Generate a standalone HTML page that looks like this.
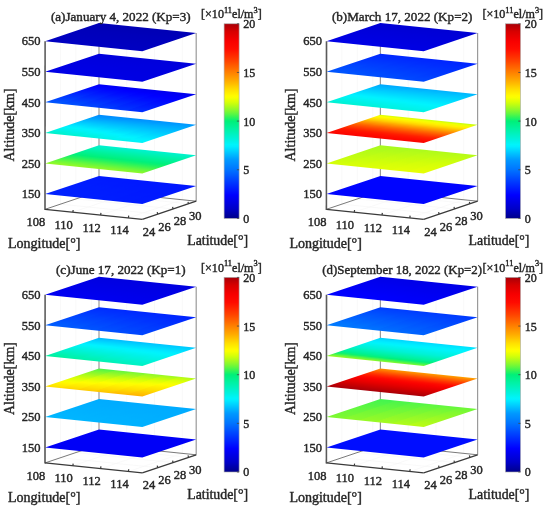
<!DOCTYPE html>
<html><head><meta charset="utf-8"><style>
html,body{margin:0;padding:0;background:#fff;}
svg{display:block;filter:blur(0.3px);font-family:"Liberation Serif","Times New Roman",serif;}
.t{fill:#262626;stroke:#262626;stroke-width:0.42px;font-size:12.5px;}
</style></head><body>
<svg width="550" height="514" viewBox="0 0 550 514">
<rect width="550" height="514" fill="#fff"/>
<defs><linearGradient id="jetv" x1="0" y1="0" x2="0" y2="1"><stop offset="0" stop-color="#a80008"/><stop offset="0.01" stop-color="#b40006"/><stop offset="0.02" stop-color="#c00004"/><stop offset="0.03" stop-color="#cc0002"/><stop offset="0.04" stop-color="#d80000"/><stop offset="0.05" stop-color="#de0000"/><stop offset="0.06" stop-color="#e50000"/><stop offset="0.07" stop-color="#eb0000"/><stop offset="0.08" stop-color="#f20000"/><stop offset="0.09" stop-color="#f80000"/><stop offset="0.1" stop-color="#fa0300"/><stop offset="0.11" stop-color="#fb0600"/><stop offset="0.12" stop-color="#fd0900"/><stop offset="0.13" stop-color="#ff0c00"/><stop offset="0.14" stop-color="#ff1500"/><stop offset="0.15" stop-color="#ff1e00"/><stop offset="0.16" stop-color="#ff2700"/><stop offset="0.17" stop-color="#ff3000"/><stop offset="0.18" stop-color="#ff3900"/><stop offset="0.19" stop-color="#ff4200"/><stop offset="0.2" stop-color="#ff4c00"/><stop offset="0.21" stop-color="#ff5700"/><stop offset="0.22" stop-color="#ff6100"/><stop offset="0.23" stop-color="#ff6b00"/><stop offset="0.24" stop-color="#ff7600"/><stop offset="0.25" stop-color="#ff8000"/><stop offset="0.26" stop-color="#ff8a00"/><stop offset="0.27" stop-color="#ff9400"/><stop offset="0.28" stop-color="#ff9e00"/><stop offset="0.29" stop-color="#ffa800"/><stop offset="0.3" stop-color="#ffb300"/><stop offset="0.31" stop-color="#ffbe00"/><stop offset="0.32" stop-color="#ffca00"/><stop offset="0.33" stop-color="#ffd500"/><stop offset="0.34" stop-color="#ffe000"/><stop offset="0.35" stop-color="#ffe900"/><stop offset="0.36" stop-color="#fff200"/><stop offset="0.37" stop-color="#fffb00"/><stop offset="0.38" stop-color="#f8ff01"/><stop offset="0.39" stop-color="#e9ff04"/><stop offset="0.4" stop-color="#dbff07"/><stop offset="0.41" stop-color="#cafe0d"/><stop offset="0.42" stop-color="#b7fc16"/><stop offset="0.43" stop-color="#a4fa20"/><stop offset="0.44" stop-color="#8ff92a"/><stop offset="0.45" stop-color="#7af833"/><stop offset="0.46" stop-color="#63f73e"/><stop offset="0.47" stop-color="#4af64b"/><stop offset="0.48" stop-color="#30f458"/><stop offset="0.49" stop-color="#18f268"/><stop offset="0.5" stop-color="#00f078"/><stop offset="0.51" stop-color="#00f083"/><stop offset="0.52" stop-color="#00f18d"/><stop offset="0.53" stop-color="#00f198"/><stop offset="0.54" stop-color="#00f2a3"/><stop offset="0.55" stop-color="#00f2ad"/><stop offset="0.56" stop-color="#00f2b8"/><stop offset="0.57" stop-color="#00f2c3"/><stop offset="0.58" stop-color="#00f2ce"/><stop offset="0.59" stop-color="#00f2d9"/><stop offset="0.6" stop-color="#00f2e4"/><stop offset="0.61" stop-color="#00f3ef"/><stop offset="0.62" stop-color="#00f4fa"/><stop offset="0.63" stop-color="#00eeff"/><stop offset="0.64" stop-color="#00e2ff"/><stop offset="0.65" stop-color="#00d6ff"/><stop offset="0.66" stop-color="#00caff"/><stop offset="0.67" stop-color="#00bdff"/><stop offset="0.68" stop-color="#00b1ff"/><stop offset="0.69" stop-color="#00a4ff"/><stop offset="0.7" stop-color="#0098ff"/><stop offset="0.71" stop-color="#0091ff"/><stop offset="0.72" stop-color="#008aff"/><stop offset="0.73" stop-color="#0082ff"/><stop offset="0.74" stop-color="#007bff"/><stop offset="0.75" stop-color="#0074ff"/><stop offset="0.76" stop-color="#006bff"/><stop offset="0.77" stop-color="#0062ff"/><stop offset="0.78" stop-color="#0059ff"/><stop offset="0.79" stop-color="#004fff"/><stop offset="0.8" stop-color="#0046ff"/><stop offset="0.81" stop-color="#003dff"/><stop offset="0.82" stop-color="#0034ff"/><stop offset="0.83" stop-color="#002bff"/><stop offset="0.84" stop-color="#0023ff"/><stop offset="0.85" stop-color="#001aff"/><stop offset="0.86" stop-color="#0011ff"/><stop offset="0.87" stop-color="#0009ff"/><stop offset="0.88" stop-color="#0000ff"/><stop offset="0.89" stop-color="#0000f7"/><stop offset="0.9" stop-color="#0000ef"/><stop offset="0.91" stop-color="#0000e7"/><stop offset="0.92" stop-color="#0000e0"/><stop offset="0.93" stop-color="#0000d8"/><stop offset="0.94" stop-color="#0000d0"/><stop offset="0.95" stop-color="#0000c8"/><stop offset="0.96" stop-color="#0000bc"/><stop offset="0.97" stop-color="#0000af"/><stop offset="0.98" stop-color="#0000a3"/><stop offset="0.99" stop-color="#000096"/><stop offset="1" stop-color="#00008a"/></linearGradient>
<linearGradient id="g2" gradientUnits="userSpaceOnUse" x1="0" y1="0" x2="0" y2="1"><stop offset="0" stop-color="#0022ff"/><stop offset="0.083" stop-color="#0021ff"/><stop offset="0.167" stop-color="#0021ff"/><stop offset="0.25" stop-color="#0020ff"/><stop offset="0.333" stop-color="#001fff"/><stop offset="0.417" stop-color="#001eff"/><stop offset="0.5" stop-color="#001eff"/><stop offset="0.583" stop-color="#001dff"/><stop offset="0.667" stop-color="#001cff"/><stop offset="0.75" stop-color="#001cff"/><stop offset="0.833" stop-color="#001bff"/><stop offset="0.917" stop-color="#001aff"/><stop offset="1" stop-color="#001aff"/></linearGradient>
<linearGradient id="g3" gradientUnits="userSpaceOnUse" x1="0" y1="0" x2="0" y2="1"><stop offset="0" stop-color="#0021ff"/><stop offset="0.083" stop-color="#0020ff"/><stop offset="0.167" stop-color="#001fff"/><stop offset="0.25" stop-color="#001fff"/><stop offset="0.333" stop-color="#001eff"/><stop offset="0.417" stop-color="#001dff"/><stop offset="0.5" stop-color="#001dff"/><stop offset="0.583" stop-color="#001cff"/><stop offset="0.667" stop-color="#001bff"/><stop offset="0.75" stop-color="#001bff"/><stop offset="0.833" stop-color="#001aff"/><stop offset="0.917" stop-color="#001aff"/><stop offset="1" stop-color="#0019ff"/></linearGradient>
<linearGradient id="g4" gradientUnits="userSpaceOnUse" x1="0" y1="0" x2="0" y2="1"><stop offset="0" stop-color="#001fff"/><stop offset="0.083" stop-color="#001eff"/><stop offset="0.167" stop-color="#001eff"/><stop offset="0.25" stop-color="#001dff"/><stop offset="0.333" stop-color="#001dff"/><stop offset="0.417" stop-color="#001cff"/><stop offset="0.5" stop-color="#001cff"/><stop offset="0.583" stop-color="#001bff"/><stop offset="0.667" stop-color="#001aff"/><stop offset="0.75" stop-color="#001aff"/><stop offset="0.833" stop-color="#0019ff"/><stop offset="0.917" stop-color="#0019ff"/><stop offset="1" stop-color="#0018ff"/></linearGradient>
<linearGradient id="g5" gradientUnits="userSpaceOnUse" x1="0" y1="0" x2="0" y2="1"><stop offset="0" stop-color="#001eff"/><stop offset="0.083" stop-color="#001dff"/><stop offset="0.167" stop-color="#001dff"/><stop offset="0.25" stop-color="#001cff"/><stop offset="0.333" stop-color="#001cff"/><stop offset="0.417" stop-color="#001bff"/><stop offset="0.5" stop-color="#001bff"/><stop offset="0.583" stop-color="#001aff"/><stop offset="0.667" stop-color="#001aff"/><stop offset="0.75" stop-color="#0019ff"/><stop offset="0.833" stop-color="#0018ff"/><stop offset="0.917" stop-color="#0018ff"/><stop offset="1" stop-color="#0017ff"/></linearGradient>
<linearGradient id="g6" gradientUnits="userSpaceOnUse" x1="0" y1="0" x2="0" y2="1"><stop offset="0" stop-color="#001cff"/><stop offset="0.083" stop-color="#001cff"/><stop offset="0.167" stop-color="#001bff"/><stop offset="0.25" stop-color="#001bff"/><stop offset="0.333" stop-color="#001aff"/><stop offset="0.417" stop-color="#001aff"/><stop offset="0.5" stop-color="#0019ff"/><stop offset="0.583" stop-color="#0019ff"/><stop offset="0.667" stop-color="#0019ff"/><stop offset="0.75" stop-color="#0018ff"/><stop offset="0.833" stop-color="#0018ff"/><stop offset="0.917" stop-color="#0017ff"/><stop offset="1" stop-color="#0017ff"/></linearGradient>
<linearGradient id="g7" gradientUnits="userSpaceOnUse" x1="0" y1="0" x2="0" y2="1"><stop offset="0" stop-color="#001bff"/><stop offset="0.083" stop-color="#001aff"/><stop offset="0.167" stop-color="#001aff"/><stop offset="0.25" stop-color="#001aff"/><stop offset="0.333" stop-color="#0019ff"/><stop offset="0.417" stop-color="#0019ff"/><stop offset="0.5" stop-color="#0018ff"/><stop offset="0.583" stop-color="#0018ff"/><stop offset="0.667" stop-color="#0018ff"/><stop offset="0.75" stop-color="#0017ff"/><stop offset="0.833" stop-color="#0017ff"/><stop offset="0.917" stop-color="#0016ff"/><stop offset="1" stop-color="#0016ff"/></linearGradient>
<pattern id="p1" patternUnits="userSpaceOnUse" x="-1" y="-1" width="3" height="3"><g transform="translate(1 1)"><rect x="-1" y="-1" width="1.197" height="3" fill="url(#g2)"/><rect x="0.167" y="-1" width="0.197" height="3" fill="url(#g3)"/><rect x="0.333" y="-1" width="0.197" height="3" fill="url(#g4)"/><rect x="0.5" y="-1" width="0.197" height="3" fill="url(#g5)"/><rect x="0.667" y="-1" width="0.197" height="3" fill="url(#g6)"/><rect x="0.833" y="-1" width="1.167" height="3" fill="url(#g7)"/></g></pattern>
<linearGradient id="g9" gradientUnits="userSpaceOnUse" x1="0" y1="0" x2="0" y2="1"><stop offset="0" stop-color="#99fa25"/><stop offset="0.083" stop-color="#82f930"/><stop offset="0.167" stop-color="#6bf83b"/><stop offset="0.25" stop-color="#4ff649"/><stop offset="0.333" stop-color="#33f456"/><stop offset="0.417" stop-color="#19f267"/><stop offset="0.5" stop-color="#00f078"/><stop offset="0.583" stop-color="#00f187"/><stop offset="0.667" stop-color="#00f196"/><stop offset="0.75" stop-color="#00f2a5"/><stop offset="0.833" stop-color="#00f2b5"/><stop offset="0.917" stop-color="#00f2c4"/><stop offset="1" stop-color="#00f2d3"/></linearGradient>
<linearGradient id="g10" gradientUnits="userSpaceOnUse" x1="0" y1="0" x2="0" y2="1"><stop offset="0" stop-color="#97fa26"/><stop offset="0.083" stop-color="#80f930"/><stop offset="0.167" stop-color="#69f83c"/><stop offset="0.25" stop-color="#4df64a"/><stop offset="0.333" stop-color="#31f457"/><stop offset="0.417" stop-color="#17f269"/><stop offset="0.5" stop-color="#00f079"/><stop offset="0.583" stop-color="#00f188"/><stop offset="0.667" stop-color="#00f197"/><stop offset="0.75" stop-color="#00f2a5"/><stop offset="0.833" stop-color="#00f2b4"/><stop offset="0.917" stop-color="#00f2c3"/><stop offset="1" stop-color="#00f2d2"/></linearGradient>
<linearGradient id="g11" gradientUnits="userSpaceOnUse" x1="0" y1="0" x2="0" y2="1"><stop offset="0" stop-color="#95f927"/><stop offset="0.083" stop-color="#7ff931"/><stop offset="0.167" stop-color="#66f73d"/><stop offset="0.25" stop-color="#4bf64b"/><stop offset="0.333" stop-color="#2ff459"/><stop offset="0.417" stop-color="#15f26a"/><stop offset="0.5" stop-color="#00f07a"/><stop offset="0.583" stop-color="#00f189"/><stop offset="0.667" stop-color="#00f197"/><stop offset="0.75" stop-color="#00f2a5"/><stop offset="0.833" stop-color="#00f2b4"/><stop offset="0.917" stop-color="#00f2c3"/><stop offset="1" stop-color="#00f2d1"/></linearGradient>
<linearGradient id="g12" gradientUnits="userSpaceOnUse" x1="0" y1="0" x2="0" y2="1"><stop offset="0" stop-color="#94f928"/><stop offset="0.083" stop-color="#7df832"/><stop offset="0.167" stop-color="#64f73e"/><stop offset="0.25" stop-color="#49f64c"/><stop offset="0.333" stop-color="#2df45a"/><stop offset="0.417" stop-color="#13f26b"/><stop offset="0.5" stop-color="#00f07b"/><stop offset="0.583" stop-color="#00f189"/><stop offset="0.667" stop-color="#00f197"/><stop offset="0.75" stop-color="#00f2a5"/><stop offset="0.833" stop-color="#00f2b4"/><stop offset="0.917" stop-color="#00f2c2"/><stop offset="1" stop-color="#00f2d0"/></linearGradient>
<linearGradient id="g13" gradientUnits="userSpaceOnUse" x1="0" y1="0" x2="0" y2="1"><stop offset="0" stop-color="#92f928"/><stop offset="0.083" stop-color="#7bf833"/><stop offset="0.167" stop-color="#62f73f"/><stop offset="0.25" stop-color="#46f54d"/><stop offset="0.333" stop-color="#2bf45b"/><stop offset="0.417" stop-color="#11f16d"/><stop offset="0.5" stop-color="#00f07c"/><stop offset="0.583" stop-color="#00f18a"/><stop offset="0.667" stop-color="#00f198"/><stop offset="0.75" stop-color="#00f2a5"/><stop offset="0.833" stop-color="#00f2b3"/><stop offset="0.917" stop-color="#00f2c1"/><stop offset="1" stop-color="#00f2d0"/></linearGradient>
<linearGradient id="g14" gradientUnits="userSpaceOnUse" x1="0" y1="0" x2="0" y2="1"><stop offset="0" stop-color="#90f929"/><stop offset="0.083" stop-color="#7af834"/><stop offset="0.167" stop-color="#60f740"/><stop offset="0.25" stop-color="#44f54e"/><stop offset="0.333" stop-color="#29f35d"/><stop offset="0.417" stop-color="#0ff16e"/><stop offset="0.5" stop-color="#00f07d"/><stop offset="0.583" stop-color="#00f18a"/><stop offset="0.667" stop-color="#00f198"/><stop offset="0.75" stop-color="#00f2a5"/><stop offset="0.833" stop-color="#00f2b3"/><stop offset="0.917" stop-color="#00f2c1"/><stop offset="1" stop-color="#00f2cf"/></linearGradient>
<pattern id="p8" patternUnits="userSpaceOnUse" x="-1" y="-1" width="3" height="3"><g transform="translate(1 1)"><rect x="-1" y="-1" width="1.197" height="3" fill="url(#g9)"/><rect x="0.167" y="-1" width="0.197" height="3" fill="url(#g10)"/><rect x="0.333" y="-1" width="0.197" height="3" fill="url(#g11)"/><rect x="0.5" y="-1" width="0.197" height="3" fill="url(#g12)"/><rect x="0.667" y="-1" width="0.197" height="3" fill="url(#g13)"/><rect x="0.833" y="-1" width="1.167" height="3" fill="url(#g14)"/></g></pattern>
<linearGradient id="g16" gradientUnits="userSpaceOnUse" x1="0" y1="0" x2="0" y2="1"><stop offset="0" stop-color="#00f2c8"/><stop offset="0.083" stop-color="#00f2d5"/><stop offset="0.167" stop-color="#00f2e2"/><stop offset="0.25" stop-color="#00f3ef"/><stop offset="0.333" stop-color="#00f4fc"/><stop offset="0.417" stop-color="#00e9ff"/><stop offset="0.5" stop-color="#00daff"/><stop offset="0.583" stop-color="#00ccff"/><stop offset="0.667" stop-color="#00bdff"/><stop offset="0.75" stop-color="#00aeff"/><stop offset="0.833" stop-color="#009fff"/><stop offset="0.917" stop-color="#0093ff"/><stop offset="1" stop-color="#008bff"/></linearGradient>
<linearGradient id="g17" gradientUnits="userSpaceOnUse" x1="0" y1="0" x2="0" y2="1"><stop offset="0" stop-color="#00f2d1"/><stop offset="0.083" stop-color="#00f2dd"/><stop offset="0.167" stop-color="#00f2e9"/><stop offset="0.25" stop-color="#00f3f5"/><stop offset="0.333" stop-color="#00f2ff"/><stop offset="0.417" stop-color="#00e5ff"/><stop offset="0.5" stop-color="#00d7ff"/><stop offset="0.583" stop-color="#00caff"/><stop offset="0.667" stop-color="#00bcff"/><stop offset="0.75" stop-color="#00afff"/><stop offset="0.833" stop-color="#00a1ff"/><stop offset="0.917" stop-color="#0095ff"/><stop offset="1" stop-color="#008dff"/></linearGradient>
<linearGradient id="g18" gradientUnits="userSpaceOnUse" x1="0" y1="0" x2="0" y2="1"><stop offset="0" stop-color="#00f2da"/><stop offset="0.083" stop-color="#00f2e5"/><stop offset="0.167" stop-color="#00f3f0"/><stop offset="0.25" stop-color="#00f4fb"/><stop offset="0.333" stop-color="#00edff"/><stop offset="0.417" stop-color="#00e1ff"/><stop offset="0.5" stop-color="#00d4ff"/><stop offset="0.583" stop-color="#00c8ff"/><stop offset="0.667" stop-color="#00bcff"/><stop offset="0.75" stop-color="#00afff"/><stop offset="0.833" stop-color="#00a3ff"/><stop offset="0.917" stop-color="#0097ff"/><stop offset="1" stop-color="#0090ff"/></linearGradient>
<linearGradient id="g19" gradientUnits="userSpaceOnUse" x1="0" y1="0" x2="0" y2="1"><stop offset="0" stop-color="#00f2e3"/><stop offset="0.083" stop-color="#00f3ed"/><stop offset="0.167" stop-color="#00f3f7"/><stop offset="0.25" stop-color="#00f2ff"/><stop offset="0.333" stop-color="#00e7ff"/><stop offset="0.417" stop-color="#00dcff"/><stop offset="0.5" stop-color="#00d1ff"/><stop offset="0.583" stop-color="#00c6ff"/><stop offset="0.667" stop-color="#00bbff"/><stop offset="0.75" stop-color="#00b0ff"/><stop offset="0.833" stop-color="#00a4ff"/><stop offset="0.917" stop-color="#0099ff"/><stop offset="1" stop-color="#0092ff"/></linearGradient>
<linearGradient id="g20" gradientUnits="userSpaceOnUse" x1="0" y1="0" x2="0" y2="1"><stop offset="0" stop-color="#00f3ec"/><stop offset="0.083" stop-color="#00f3f5"/><stop offset="0.167" stop-color="#00f4fe"/><stop offset="0.25" stop-color="#00ecff"/><stop offset="0.333" stop-color="#00e2ff"/><stop offset="0.417" stop-color="#00d8ff"/><stop offset="0.5" stop-color="#00ceff"/><stop offset="0.583" stop-color="#00c4ff"/><stop offset="0.667" stop-color="#00baff"/><stop offset="0.75" stop-color="#00b0ff"/><stop offset="0.833" stop-color="#00a6ff"/><stop offset="0.917" stop-color="#009cff"/><stop offset="1" stop-color="#0094ff"/></linearGradient>
<linearGradient id="g21" gradientUnits="userSpaceOnUse" x1="0" y1="0" x2="0" y2="1"><stop offset="0" stop-color="#00f3f5"/><stop offset="0.083" stop-color="#00f4fd"/><stop offset="0.167" stop-color="#00eeff"/><stop offset="0.25" stop-color="#00e5ff"/><stop offset="0.333" stop-color="#00ddff"/><stop offset="0.417" stop-color="#00d4ff"/><stop offset="0.5" stop-color="#00cbff"/><stop offset="0.583" stop-color="#00c2ff"/><stop offset="0.667" stop-color="#00baff"/><stop offset="0.75" stop-color="#00b1ff"/><stop offset="0.833" stop-color="#00a8ff"/><stop offset="0.917" stop-color="#009fff"/><stop offset="1" stop-color="#0097ff"/></linearGradient>
<pattern id="p15" patternUnits="userSpaceOnUse" x="-1" y="-1" width="3" height="3"><g transform="translate(1 1)"><rect x="-1" y="-1" width="1.197" height="3" fill="url(#g16)"/><rect x="0.167" y="-1" width="0.197" height="3" fill="url(#g17)"/><rect x="0.333" y="-1" width="0.197" height="3" fill="url(#g18)"/><rect x="0.5" y="-1" width="0.197" height="3" fill="url(#g19)"/><rect x="0.667" y="-1" width="0.197" height="3" fill="url(#g20)"/><rect x="0.833" y="-1" width="1.167" height="3" fill="url(#g21)"/></g></pattern>
<linearGradient id="g23" gradientUnits="userSpaceOnUse" x1="0" y1="0" x2="0" y2="1"><stop offset="0" stop-color="#0059ff"/><stop offset="0.083" stop-color="#0050ff"/><stop offset="0.167" stop-color="#0048ff"/><stop offset="0.25" stop-color="#003fff"/><stop offset="0.333" stop-color="#0037ff"/><stop offset="0.417" stop-color="#002fff"/><stop offset="0.5" stop-color="#0027ff"/><stop offset="0.583" stop-color="#001fff"/><stop offset="0.667" stop-color="#0017ff"/><stop offset="0.75" stop-color="#000eff"/><stop offset="0.833" stop-color="#0006ff"/><stop offset="0.917" stop-color="#0000fd"/><stop offset="1" stop-color="#0000f6"/></linearGradient>
<linearGradient id="g24" gradientUnits="userSpaceOnUse" x1="0" y1="0" x2="0" y2="1"><stop offset="0" stop-color="#0051ff"/><stop offset="0.083" stop-color="#0049ff"/><stop offset="0.167" stop-color="#0041ff"/><stop offset="0.25" stop-color="#0039ff"/><stop offset="0.333" stop-color="#0031ff"/><stop offset="0.417" stop-color="#0029ff"/><stop offset="0.5" stop-color="#0022ff"/><stop offset="0.583" stop-color="#001aff"/><stop offset="0.667" stop-color="#0012ff"/><stop offset="0.75" stop-color="#000bff"/><stop offset="0.833" stop-color="#0003ff"/><stop offset="0.917" stop-color="#0000fb"/><stop offset="1" stop-color="#0000f4"/></linearGradient>
<linearGradient id="g25" gradientUnits="userSpaceOnUse" x1="0" y1="0" x2="0" y2="1"><stop offset="0" stop-color="#0048ff"/><stop offset="0.083" stop-color="#0041ff"/><stop offset="0.167" stop-color="#0039ff"/><stop offset="0.25" stop-color="#0032ff"/><stop offset="0.333" stop-color="#002bff"/><stop offset="0.417" stop-color="#0024ff"/><stop offset="0.5" stop-color="#001dff"/><stop offset="0.583" stop-color="#0015ff"/><stop offset="0.667" stop-color="#000eff"/><stop offset="0.75" stop-color="#0007ff"/><stop offset="0.833" stop-color="#0000ff"/><stop offset="0.917" stop-color="#0000f9"/><stop offset="1" stop-color="#0000f2"/></linearGradient>
<linearGradient id="g26" gradientUnits="userSpaceOnUse" x1="0" y1="0" x2="0" y2="1"><stop offset="0" stop-color="#0040ff"/><stop offset="0.083" stop-color="#0039ff"/><stop offset="0.167" stop-color="#0032ff"/><stop offset="0.25" stop-color="#002bff"/><stop offset="0.333" stop-color="#0025ff"/><stop offset="0.417" stop-color="#001eff"/><stop offset="0.5" stop-color="#0017ff"/><stop offset="0.583" stop-color="#0011ff"/><stop offset="0.667" stop-color="#000aff"/><stop offset="0.75" stop-color="#0004ff"/><stop offset="0.833" stop-color="#0000fc"/><stop offset="0.917" stop-color="#0000f6"/><stop offset="1" stop-color="#0000f0"/></linearGradient>
<linearGradient id="g27" gradientUnits="userSpaceOnUse" x1="0" y1="0" x2="0" y2="1"><stop offset="0" stop-color="#0037ff"/><stop offset="0.083" stop-color="#0031ff"/><stop offset="0.167" stop-color="#002bff"/><stop offset="0.25" stop-color="#0025ff"/><stop offset="0.333" stop-color="#001fff"/><stop offset="0.417" stop-color="#0019ff"/><stop offset="0.5" stop-color="#0012ff"/><stop offset="0.583" stop-color="#000cff"/><stop offset="0.667" stop-color="#0006ff"/><stop offset="0.75" stop-color="#0000ff"/><stop offset="0.833" stop-color="#0000f9"/><stop offset="0.917" stop-color="#0000f4"/><stop offset="1" stop-color="#0000ee"/></linearGradient>
<linearGradient id="g28" gradientUnits="userSpaceOnUse" x1="0" y1="0" x2="0" y2="1"><stop offset="0" stop-color="#002fff"/><stop offset="0.083" stop-color="#002aff"/><stop offset="0.167" stop-color="#0024ff"/><stop offset="0.25" stop-color="#001eff"/><stop offset="0.333" stop-color="#0019ff"/><stop offset="0.417" stop-color="#0013ff"/><stop offset="0.5" stop-color="#000dff"/><stop offset="0.583" stop-color="#0008ff"/><stop offset="0.667" stop-color="#0002ff"/><stop offset="0.75" stop-color="#0000fc"/><stop offset="0.833" stop-color="#0000f7"/><stop offset="0.917" stop-color="#0000f1"/><stop offset="1" stop-color="#0000ec"/></linearGradient>
<pattern id="p22" patternUnits="userSpaceOnUse" x="-1" y="-1" width="3" height="3"><g transform="translate(1 1)"><rect x="-1" y="-1" width="1.197" height="3" fill="url(#g23)"/><rect x="0.167" y="-1" width="0.197" height="3" fill="url(#g24)"/><rect x="0.333" y="-1" width="0.197" height="3" fill="url(#g25)"/><rect x="0.5" y="-1" width="0.197" height="3" fill="url(#g26)"/><rect x="0.667" y="-1" width="0.197" height="3" fill="url(#g27)"/><rect x="0.833" y="-1" width="1.167" height="3" fill="url(#g28)"/></g></pattern>
<linearGradient id="g30" gradientUnits="userSpaceOnUse" x1="0" y1="0" x2="0" y2="1"><stop offset="0" stop-color="#0000e7"/><stop offset="0.083" stop-color="#0000e6"/><stop offset="0.167" stop-color="#0000e5"/><stop offset="0.25" stop-color="#0000e4"/><stop offset="0.333" stop-color="#0000e3"/><stop offset="0.417" stop-color="#0000e2"/><stop offset="0.5" stop-color="#0000e1"/><stop offset="0.583" stop-color="#0000e0"/><stop offset="0.667" stop-color="#0000df"/><stop offset="0.75" stop-color="#0000df"/><stop offset="0.833" stop-color="#0000de"/><stop offset="0.917" stop-color="#0000dd"/><stop offset="1" stop-color="#0000dc"/></linearGradient>
<linearGradient id="g31" gradientUnits="userSpaceOnUse" x1="0" y1="0" x2="0" y2="1"><stop offset="0" stop-color="#0000e6"/><stop offset="0.083" stop-color="#0000e6"/><stop offset="0.167" stop-color="#0000e5"/><stop offset="0.25" stop-color="#0000e4"/><stop offset="0.333" stop-color="#0000e3"/><stop offset="0.417" stop-color="#0000e2"/><stop offset="0.5" stop-color="#0000e1"/><stop offset="0.583" stop-color="#0000e0"/><stop offset="0.667" stop-color="#0000df"/><stop offset="0.75" stop-color="#0000de"/><stop offset="0.833" stop-color="#0000dd"/><stop offset="0.917" stop-color="#0000dd"/><stop offset="1" stop-color="#0000dc"/></linearGradient>
<linearGradient id="g32" gradientUnits="userSpaceOnUse" x1="0" y1="0" x2="0" y2="1"><stop offset="0" stop-color="#0000e6"/><stop offset="0.083" stop-color="#0000e5"/><stop offset="0.167" stop-color="#0000e4"/><stop offset="0.25" stop-color="#0000e3"/><stop offset="0.333" stop-color="#0000e2"/><stop offset="0.417" stop-color="#0000e2"/><stop offset="0.5" stop-color="#0000e1"/><stop offset="0.583" stop-color="#0000e0"/><stop offset="0.667" stop-color="#0000df"/><stop offset="0.75" stop-color="#0000de"/><stop offset="0.833" stop-color="#0000dd"/><stop offset="0.917" stop-color="#0000dc"/><stop offset="1" stop-color="#0000dc"/></linearGradient>
<linearGradient id="g33" gradientUnits="userSpaceOnUse" x1="0" y1="0" x2="0" y2="1"><stop offset="0" stop-color="#0000e5"/><stop offset="0.083" stop-color="#0000e4"/><stop offset="0.167" stop-color="#0000e4"/><stop offset="0.25" stop-color="#0000e3"/><stop offset="0.333" stop-color="#0000e2"/><stop offset="0.417" stop-color="#0000e1"/><stop offset="0.5" stop-color="#0000e0"/><stop offset="0.583" stop-color="#0000e0"/><stop offset="0.667" stop-color="#0000df"/><stop offset="0.75" stop-color="#0000de"/><stop offset="0.833" stop-color="#0000dd"/><stop offset="0.917" stop-color="#0000dc"/><stop offset="1" stop-color="#0000dc"/></linearGradient>
<linearGradient id="g34" gradientUnits="userSpaceOnUse" x1="0" y1="0" x2="0" y2="1"><stop offset="0" stop-color="#0000e4"/><stop offset="0.083" stop-color="#0000e4"/><stop offset="0.167" stop-color="#0000e3"/><stop offset="0.25" stop-color="#0000e2"/><stop offset="0.333" stop-color="#0000e2"/><stop offset="0.417" stop-color="#0000e1"/><stop offset="0.5" stop-color="#0000e0"/><stop offset="0.583" stop-color="#0000df"/><stop offset="0.667" stop-color="#0000df"/><stop offset="0.75" stop-color="#0000de"/><stop offset="0.833" stop-color="#0000dd"/><stop offset="0.917" stop-color="#0000dc"/><stop offset="1" stop-color="#0000dc"/></linearGradient>
<linearGradient id="g35" gradientUnits="userSpaceOnUse" x1="0" y1="0" x2="0" y2="1"><stop offset="0" stop-color="#0000e4"/><stop offset="0.083" stop-color="#0000e3"/><stop offset="0.167" stop-color="#0000e2"/><stop offset="0.25" stop-color="#0000e2"/><stop offset="0.333" stop-color="#0000e1"/><stop offset="0.417" stop-color="#0000e0"/><stop offset="0.5" stop-color="#0000e0"/><stop offset="0.583" stop-color="#0000df"/><stop offset="0.667" stop-color="#0000de"/><stop offset="0.75" stop-color="#0000de"/><stop offset="0.833" stop-color="#0000dd"/><stop offset="0.917" stop-color="#0000dc"/><stop offset="1" stop-color="#0000dc"/></linearGradient>
<pattern id="p29" patternUnits="userSpaceOnUse" x="-1" y="-1" width="3" height="3"><g transform="translate(1 1)"><rect x="-1" y="-1" width="1.197" height="3" fill="url(#g30)"/><rect x="0.167" y="-1" width="0.197" height="3" fill="url(#g31)"/><rect x="0.333" y="-1" width="0.197" height="3" fill="url(#g32)"/><rect x="0.5" y="-1" width="0.197" height="3" fill="url(#g33)"/><rect x="0.667" y="-1" width="0.197" height="3" fill="url(#g34)"/><rect x="0.833" y="-1" width="1.167" height="3" fill="url(#g35)"/></g></pattern>
<linearGradient id="g37" gradientUnits="userSpaceOnUse" x1="0" y1="0" x2="0" y2="1"><stop offset="0" stop-color="#0000c2"/><stop offset="0.083" stop-color="#0000c1"/><stop offset="0.167" stop-color="#0000c0"/><stop offset="0.25" stop-color="#0000bf"/><stop offset="0.333" stop-color="#0000be"/><stop offset="0.417" stop-color="#0000bd"/><stop offset="0.5" stop-color="#0000bc"/><stop offset="0.583" stop-color="#0000bb"/><stop offset="0.667" stop-color="#0000ba"/><stop offset="0.75" stop-color="#0000b8"/><stop offset="0.833" stop-color="#0000b7"/><stop offset="0.917" stop-color="#0000b6"/><stop offset="1" stop-color="#0000b5"/></linearGradient>
<pattern id="p36" patternUnits="userSpaceOnUse" x="-1" y="-1" width="3" height="3"><g transform="translate(1 1)"><rect x="-1" y="-1" width="3" height="3" fill="url(#g37)"/></g></pattern>
<linearGradient id="g39" gradientUnits="userSpaceOnUse" x1="0" y1="0" x2="0" y2="1"><stop offset="0" stop-color="#d6ff08"/><stop offset="0.083" stop-color="#d2ff09"/><stop offset="0.167" stop-color="#cefe0b"/><stop offset="0.25" stop-color="#cafe0d"/><stop offset="0.333" stop-color="#c6fe0f"/><stop offset="0.417" stop-color="#c2fd11"/><stop offset="0.5" stop-color="#befd13"/><stop offset="0.583" stop-color="#bafc15"/><stop offset="0.667" stop-color="#b6fc17"/><stop offset="0.75" stop-color="#b2fb19"/><stop offset="0.833" stop-color="#aefb1b"/><stop offset="0.917" stop-color="#aafb1d"/><stop offset="1" stop-color="#a6fa1f"/></linearGradient>
<linearGradient id="g40" gradientUnits="userSpaceOnUse" x1="0" y1="0" x2="0" y2="1"><stop offset="0" stop-color="#d9ff07"/><stop offset="0.083" stop-color="#d6ff08"/><stop offset="0.167" stop-color="#d3ff09"/><stop offset="0.25" stop-color="#cffe0b"/><stop offset="0.333" stop-color="#cafe0d"/><stop offset="0.417" stop-color="#c6fe0f"/><stop offset="0.5" stop-color="#c2fd11"/><stop offset="0.583" stop-color="#befd13"/><stop offset="0.667" stop-color="#bafc15"/><stop offset="0.75" stop-color="#b5fc17"/><stop offset="0.833" stop-color="#b1fb19"/><stop offset="0.917" stop-color="#adfb1c"/><stop offset="1" stop-color="#a9fa1e"/></linearGradient>
<linearGradient id="g41" gradientUnits="userSpaceOnUse" x1="0" y1="0" x2="0" y2="1"><stop offset="0" stop-color="#ddff06"/><stop offset="0.083" stop-color="#daff07"/><stop offset="0.167" stop-color="#d6ff08"/><stop offset="0.25" stop-color="#d3ff08"/><stop offset="0.333" stop-color="#cffe0b"/><stop offset="0.417" stop-color="#cafe0d"/><stop offset="0.5" stop-color="#c6fe0f"/><stop offset="0.583" stop-color="#c2fd11"/><stop offset="0.667" stop-color="#bdfd13"/><stop offset="0.75" stop-color="#b9fc16"/><stop offset="0.833" stop-color="#b5fc18"/><stop offset="0.917" stop-color="#b0fb1a"/><stop offset="1" stop-color="#acfb1c"/></linearGradient>
<linearGradient id="g42" gradientUnits="userSpaceOnUse" x1="0" y1="0" x2="0" y2="1"><stop offset="0" stop-color="#e1ff06"/><stop offset="0.083" stop-color="#ddff06"/><stop offset="0.167" stop-color="#daff07"/><stop offset="0.25" stop-color="#d7ff08"/><stop offset="0.333" stop-color="#d3ff09"/><stop offset="0.417" stop-color="#cefe0b"/><stop offset="0.5" stop-color="#cafe0d"/><stop offset="0.583" stop-color="#c6fd0f"/><stop offset="0.667" stop-color="#c1fd11"/><stop offset="0.75" stop-color="#bdfd14"/><stop offset="0.833" stop-color="#b8fc16"/><stop offset="0.917" stop-color="#b4fc18"/><stop offset="1" stop-color="#affb1a"/></linearGradient>
<linearGradient id="g43" gradientUnits="userSpaceOnUse" x1="0" y1="0" x2="0" y2="1"><stop offset="0" stop-color="#e4ff05"/><stop offset="0.083" stop-color="#e1ff06"/><stop offset="0.167" stop-color="#ddff06"/><stop offset="0.25" stop-color="#daff07"/><stop offset="0.333" stop-color="#d6ff08"/><stop offset="0.417" stop-color="#d3ff09"/><stop offset="0.5" stop-color="#cefe0b"/><stop offset="0.583" stop-color="#c9fe0d"/><stop offset="0.667" stop-color="#c5fd10"/><stop offset="0.75" stop-color="#c0fd12"/><stop offset="0.833" stop-color="#bcfc14"/><stop offset="0.917" stop-color="#b7fc17"/><stop offset="1" stop-color="#b2fb19"/></linearGradient>
<linearGradient id="g44" gradientUnits="userSpaceOnUse" x1="0" y1="0" x2="0" y2="1"><stop offset="0" stop-color="#e8ff04"/><stop offset="0.083" stop-color="#e4ff05"/><stop offset="0.167" stop-color="#e1ff06"/><stop offset="0.25" stop-color="#ddff06"/><stop offset="0.333" stop-color="#daff07"/><stop offset="0.417" stop-color="#d6ff08"/><stop offset="0.5" stop-color="#d2ff09"/><stop offset="0.583" stop-color="#cdfe0b"/><stop offset="0.667" stop-color="#c9fe0e"/><stop offset="0.75" stop-color="#c4fd10"/><stop offset="0.833" stop-color="#bffd12"/><stop offset="0.917" stop-color="#bafc15"/><stop offset="1" stop-color="#b6fc17"/></linearGradient>
<pattern id="p38" patternUnits="userSpaceOnUse" x="-1" y="-1" width="3" height="3"><g transform="translate(1 1)"><rect x="-1" y="-1" width="1.197" height="3" fill="url(#g39)"/><rect x="0.167" y="-1" width="0.197" height="3" fill="url(#g40)"/><rect x="0.333" y="-1" width="0.197" height="3" fill="url(#g41)"/><rect x="0.5" y="-1" width="0.197" height="3" fill="url(#g42)"/><rect x="0.667" y="-1" width="0.197" height="3" fill="url(#g43)"/><rect x="0.833" y="-1" width="1.167" height="3" fill="url(#g44)"/></g></pattern>
<linearGradient id="g46" gradientUnits="userSpaceOnUse" x1="0" y1="0" x2="0" y2="1"><stop offset="0" stop-color="#fb0500"/><stop offset="0.083" stop-color="#fd0900"/><stop offset="0.167" stop-color="#ff0e00"/><stop offset="0.25" stop-color="#ff1a00"/><stop offset="0.333" stop-color="#ff3100"/><stop offset="0.417" stop-color="#ff4900"/><stop offset="0.5" stop-color="#ff6300"/><stop offset="0.583" stop-color="#ff8500"/><stop offset="0.667" stop-color="#ffa600"/><stop offset="0.75" stop-color="#ffcb00"/><stop offset="0.833" stop-color="#ffe700"/><stop offset="0.917" stop-color="#ffff00"/><stop offset="1" stop-color="#d9ff07"/></linearGradient>
<linearGradient id="g47" gradientUnits="userSpaceOnUse" x1="0" y1="0" x2="0" y2="1"><stop offset="0" stop-color="#fb0500"/><stop offset="0.083" stop-color="#fd0900"/><stop offset="0.167" stop-color="#ff0f00"/><stop offset="0.25" stop-color="#ff1c00"/><stop offset="0.333" stop-color="#ff3300"/><stop offset="0.417" stop-color="#ff4b00"/><stop offset="0.5" stop-color="#ff6600"/><stop offset="0.583" stop-color="#ff8800"/><stop offset="0.667" stop-color="#ffa900"/><stop offset="0.75" stop-color="#ffce00"/><stop offset="0.833" stop-color="#ffe900"/><stop offset="0.917" stop-color="#fcff01"/><stop offset="1" stop-color="#d6ff08"/></linearGradient>
<linearGradient id="g48" gradientUnits="userSpaceOnUse" x1="0" y1="0" x2="0" y2="1"><stop offset="0" stop-color="#fb0500"/><stop offset="0.083" stop-color="#fd0900"/><stop offset="0.167" stop-color="#ff1000"/><stop offset="0.25" stop-color="#ff1d00"/><stop offset="0.333" stop-color="#ff3500"/><stop offset="0.417" stop-color="#ff4e00"/><stop offset="0.5" stop-color="#ff6a00"/><stop offset="0.583" stop-color="#ff8b00"/><stop offset="0.667" stop-color="#ffac00"/><stop offset="0.75" stop-color="#ffd100"/><stop offset="0.833" stop-color="#ffeb00"/><stop offset="0.917" stop-color="#f8ff01"/><stop offset="1" stop-color="#d2ff09"/></linearGradient>
<linearGradient id="g49" gradientUnits="userSpaceOnUse" x1="0" y1="0" x2="0" y2="1"><stop offset="0" stop-color="#fb0500"/><stop offset="0.083" stop-color="#fd0900"/><stop offset="0.167" stop-color="#ff1100"/><stop offset="0.25" stop-color="#ff1f00"/><stop offset="0.333" stop-color="#ff3700"/><stop offset="0.417" stop-color="#ff5100"/><stop offset="0.5" stop-color="#ff6d00"/><stop offset="0.583" stop-color="#ff8e00"/><stop offset="0.667" stop-color="#ffaf00"/><stop offset="0.75" stop-color="#ffd300"/><stop offset="0.833" stop-color="#ffee00"/><stop offset="0.917" stop-color="#f5ff02"/><stop offset="1" stop-color="#cdfe0c"/></linearGradient>
<linearGradient id="g50" gradientUnits="userSpaceOnUse" x1="0" y1="0" x2="0" y2="1"><stop offset="0" stop-color="#fb0500"/><stop offset="0.083" stop-color="#fd0900"/><stop offset="0.167" stop-color="#ff1200"/><stop offset="0.25" stop-color="#ff2000"/><stop offset="0.333" stop-color="#ff3900"/><stop offset="0.417" stop-color="#ff5400"/><stop offset="0.5" stop-color="#ff7100"/><stop offset="0.583" stop-color="#ff9100"/><stop offset="0.667" stop-color="#ffb200"/><stop offset="0.75" stop-color="#ffd600"/><stop offset="0.833" stop-color="#fff000"/><stop offset="0.917" stop-color="#f1ff03"/><stop offset="1" stop-color="#c8fe0e"/></linearGradient>
<linearGradient id="g51" gradientUnits="userSpaceOnUse" x1="0" y1="0" x2="0" y2="1"><stop offset="0" stop-color="#fb0500"/><stop offset="0.083" stop-color="#fd0900"/><stop offset="0.167" stop-color="#ff1300"/><stop offset="0.25" stop-color="#ff2200"/><stop offset="0.333" stop-color="#ff3b00"/><stop offset="0.417" stop-color="#ff5700"/><stop offset="0.5" stop-color="#ff7400"/><stop offset="0.583" stop-color="#ff9400"/><stop offset="0.667" stop-color="#ffb500"/><stop offset="0.75" stop-color="#ffd900"/><stop offset="0.833" stop-color="#fff200"/><stop offset="0.917" stop-color="#eeff03"/><stop offset="1" stop-color="#c3fd10"/></linearGradient>
<pattern id="p45" patternUnits="userSpaceOnUse" x="-1" y="-1" width="3" height="3"><g transform="translate(1 1)"><rect x="-1" y="-1" width="1.197" height="3" fill="url(#g46)"/><rect x="0.167" y="-1" width="0.197" height="3" fill="url(#g47)"/><rect x="0.333" y="-1" width="0.197" height="3" fill="url(#g48)"/><rect x="0.5" y="-1" width="0.197" height="3" fill="url(#g49)"/><rect x="0.667" y="-1" width="0.197" height="3" fill="url(#g50)"/><rect x="0.833" y="-1" width="1.167" height="3" fill="url(#g51)"/></g></pattern>
<linearGradient id="g53" gradientUnits="userSpaceOnUse" x1="0" y1="0" x2="0" y2="1"><stop offset="0" stop-color="#00f2d0"/><stop offset="0.083" stop-color="#00f2da"/><stop offset="0.167" stop-color="#00f2e3"/><stop offset="0.25" stop-color="#00f3ed"/><stop offset="0.333" stop-color="#00f3f7"/><stop offset="0.417" stop-color="#00f2ff"/><stop offset="0.5" stop-color="#00e8ff"/><stop offset="0.583" stop-color="#00ddff"/><stop offset="0.667" stop-color="#00d2ff"/><stop offset="0.75" stop-color="#00c7ff"/><stop offset="0.833" stop-color="#00bcff"/><stop offset="0.917" stop-color="#00b1ff"/><stop offset="1" stop-color="#00a6ff"/></linearGradient>
<linearGradient id="g54" gradientUnits="userSpaceOnUse" x1="0" y1="0" x2="0" y2="1"><stop offset="0" stop-color="#00f2d4"/><stop offset="0.083" stop-color="#00f2dd"/><stop offset="0.167" stop-color="#00f2e6"/><stop offset="0.25" stop-color="#00f3ef"/><stop offset="0.333" stop-color="#00f4f8"/><stop offset="0.417" stop-color="#00f1ff"/><stop offset="0.5" stop-color="#00e7ff"/><stop offset="0.583" stop-color="#00ddff"/><stop offset="0.667" stop-color="#00d3ff"/><stop offset="0.75" stop-color="#00c9ff"/><stop offset="0.833" stop-color="#00beff"/><stop offset="0.917" stop-color="#00b4ff"/><stop offset="1" stop-color="#00a9ff"/></linearGradient>
<linearGradient id="g55" gradientUnits="userSpaceOnUse" x1="0" y1="0" x2="0" y2="1"><stop offset="0" stop-color="#00f2d7"/><stop offset="0.083" stop-color="#00f2e0"/><stop offset="0.167" stop-color="#00f2e9"/><stop offset="0.25" stop-color="#00f3f1"/><stop offset="0.333" stop-color="#00f4fa"/><stop offset="0.417" stop-color="#00f0ff"/><stop offset="0.5" stop-color="#00e7ff"/><stop offset="0.583" stop-color="#00ddff"/><stop offset="0.667" stop-color="#00d4ff"/><stop offset="0.75" stop-color="#00caff"/><stop offset="0.833" stop-color="#00c0ff"/><stop offset="0.917" stop-color="#00b6ff"/><stop offset="1" stop-color="#00acff"/></linearGradient>
<linearGradient id="g56" gradientUnits="userSpaceOnUse" x1="0" y1="0" x2="0" y2="1"><stop offset="0" stop-color="#00f2db"/><stop offset="0.083" stop-color="#00f2e3"/><stop offset="0.167" stop-color="#00f3eb"/><stop offset="0.25" stop-color="#00f3f3"/><stop offset="0.333" stop-color="#00f4fb"/><stop offset="0.417" stop-color="#00efff"/><stop offset="0.5" stop-color="#00e6ff"/><stop offset="0.583" stop-color="#00ddff"/><stop offset="0.667" stop-color="#00d4ff"/><stop offset="0.75" stop-color="#00cbff"/><stop offset="0.833" stop-color="#00c2ff"/><stop offset="0.917" stop-color="#00b9ff"/><stop offset="1" stop-color="#00afff"/></linearGradient>
<linearGradient id="g57" gradientUnits="userSpaceOnUse" x1="0" y1="0" x2="0" y2="1"><stop offset="0" stop-color="#00f2df"/><stop offset="0.083" stop-color="#00f2e6"/><stop offset="0.167" stop-color="#00f3ee"/><stop offset="0.25" stop-color="#00f3f5"/><stop offset="0.333" stop-color="#00f4fd"/><stop offset="0.417" stop-color="#00eeff"/><stop offset="0.5" stop-color="#00e6ff"/><stop offset="0.583" stop-color="#00ddff"/><stop offset="0.667" stop-color="#00d5ff"/><stop offset="0.75" stop-color="#00ccff"/><stop offset="0.833" stop-color="#00c4ff"/><stop offset="0.917" stop-color="#00bbff"/><stop offset="1" stop-color="#00b2ff"/></linearGradient>
<linearGradient id="g58" gradientUnits="userSpaceOnUse" x1="0" y1="0" x2="0" y2="1"><stop offset="0" stop-color="#00f2e2"/><stop offset="0.083" stop-color="#00f2e9"/><stop offset="0.167" stop-color="#00f3f0"/><stop offset="0.25" stop-color="#00f3f7"/><stop offset="0.333" stop-color="#00f4fe"/><stop offset="0.417" stop-color="#00edff"/><stop offset="0.5" stop-color="#00e5ff"/><stop offset="0.583" stop-color="#00ddff"/><stop offset="0.667" stop-color="#00d6ff"/><stop offset="0.75" stop-color="#00ceff"/><stop offset="0.833" stop-color="#00c6ff"/><stop offset="0.917" stop-color="#00beff"/><stop offset="1" stop-color="#00b6ff"/></linearGradient>
<pattern id="p52" patternUnits="userSpaceOnUse" x="-1" y="-1" width="3" height="3"><g transform="translate(1 1)"><rect x="-1" y="-1" width="1.197" height="3" fill="url(#g53)"/><rect x="0.167" y="-1" width="0.197" height="3" fill="url(#g54)"/><rect x="0.333" y="-1" width="0.197" height="3" fill="url(#g55)"/><rect x="0.5" y="-1" width="0.197" height="3" fill="url(#g56)"/><rect x="0.667" y="-1" width="0.197" height="3" fill="url(#g57)"/><rect x="0.833" y="-1" width="1.167" height="3" fill="url(#g58)"/></g></pattern>
<linearGradient id="g60" gradientUnits="userSpaceOnUse" x1="0" y1="0" x2="0" y2="1"><stop offset="0" stop-color="#0057ff"/><stop offset="0.083" stop-color="#0053ff"/><stop offset="0.167" stop-color="#004fff"/><stop offset="0.25" stop-color="#004bff"/><stop offset="0.333" stop-color="#0047ff"/><stop offset="0.417" stop-color="#0043ff"/><stop offset="0.5" stop-color="#003eff"/><stop offset="0.583" stop-color="#003aff"/><stop offset="0.667" stop-color="#0036ff"/><stop offset="0.75" stop-color="#0032ff"/><stop offset="0.833" stop-color="#002eff"/><stop offset="0.917" stop-color="#002bff"/><stop offset="1" stop-color="#0027ff"/></linearGradient>
<linearGradient id="g61" gradientUnits="userSpaceOnUse" x1="0" y1="0" x2="0" y2="1"><stop offset="0" stop-color="#0054ff"/><stop offset="0.083" stop-color="#0050ff"/><stop offset="0.167" stop-color="#004cff"/><stop offset="0.25" stop-color="#0048ff"/><stop offset="0.333" stop-color="#0044ff"/><stop offset="0.417" stop-color="#0040ff"/><stop offset="0.5" stop-color="#003dff"/><stop offset="0.583" stop-color="#0039ff"/><stop offset="0.667" stop-color="#0035ff"/><stop offset="0.75" stop-color="#0031ff"/><stop offset="0.833" stop-color="#002dff"/><stop offset="0.917" stop-color="#002aff"/><stop offset="1" stop-color="#0026ff"/></linearGradient>
<linearGradient id="g62" gradientUnits="userSpaceOnUse" x1="0" y1="0" x2="0" y2="1"><stop offset="0" stop-color="#0051ff"/><stop offset="0.083" stop-color="#004dff"/><stop offset="0.167" stop-color="#004aff"/><stop offset="0.25" stop-color="#0046ff"/><stop offset="0.333" stop-color="#0042ff"/><stop offset="0.417" stop-color="#003eff"/><stop offset="0.5" stop-color="#003bff"/><stop offset="0.583" stop-color="#0037ff"/><stop offset="0.667" stop-color="#0033ff"/><stop offset="0.75" stop-color="#0030ff"/><stop offset="0.833" stop-color="#002cff"/><stop offset="0.917" stop-color="#0029ff"/><stop offset="1" stop-color="#0025ff"/></linearGradient>
<linearGradient id="g63" gradientUnits="userSpaceOnUse" x1="0" y1="0" x2="0" y2="1"><stop offset="0" stop-color="#004eff"/><stop offset="0.083" stop-color="#004aff"/><stop offset="0.167" stop-color="#0047ff"/><stop offset="0.25" stop-color="#0043ff"/><stop offset="0.333" stop-color="#0040ff"/><stop offset="0.417" stop-color="#003cff"/><stop offset="0.5" stop-color="#0039ff"/><stop offset="0.583" stop-color="#0035ff"/><stop offset="0.667" stop-color="#0032ff"/><stop offset="0.75" stop-color="#002eff"/><stop offset="0.833" stop-color="#002bff"/><stop offset="0.917" stop-color="#0028ff"/><stop offset="1" stop-color="#0024ff"/></linearGradient>
<linearGradient id="g64" gradientUnits="userSpaceOnUse" x1="0" y1="0" x2="0" y2="1"><stop offset="0" stop-color="#004bff"/><stop offset="0.083" stop-color="#0048ff"/><stop offset="0.167" stop-color="#0044ff"/><stop offset="0.25" stop-color="#0041ff"/><stop offset="0.333" stop-color="#003eff"/><stop offset="0.417" stop-color="#003aff"/><stop offset="0.5" stop-color="#0037ff"/><stop offset="0.583" stop-color="#0034ff"/><stop offset="0.667" stop-color="#0030ff"/><stop offset="0.75" stop-color="#002dff"/><stop offset="0.833" stop-color="#002aff"/><stop offset="0.917" stop-color="#0027ff"/><stop offset="1" stop-color="#0024ff"/></linearGradient>
<linearGradient id="g65" gradientUnits="userSpaceOnUse" x1="0" y1="0" x2="0" y2="1"><stop offset="0" stop-color="#0048ff"/><stop offset="0.083" stop-color="#0045ff"/><stop offset="0.167" stop-color="#0042ff"/><stop offset="0.25" stop-color="#003eff"/><stop offset="0.333" stop-color="#003bff"/><stop offset="0.417" stop-color="#0038ff"/><stop offset="0.5" stop-color="#0035ff"/><stop offset="0.583" stop-color="#0032ff"/><stop offset="0.667" stop-color="#002fff"/><stop offset="0.75" stop-color="#002cff"/><stop offset="0.833" stop-color="#0029ff"/><stop offset="0.917" stop-color="#0026ff"/><stop offset="1" stop-color="#0023ff"/></linearGradient>
<pattern id="p59" patternUnits="userSpaceOnUse" x="-1" y="-1" width="3" height="3"><g transform="translate(1 1)"><rect x="-1" y="-1" width="1.197" height="3" fill="url(#g60)"/><rect x="0.167" y="-1" width="0.197" height="3" fill="url(#g61)"/><rect x="0.333" y="-1" width="0.197" height="3" fill="url(#g62)"/><rect x="0.5" y="-1" width="0.197" height="3" fill="url(#g63)"/><rect x="0.667" y="-1" width="0.197" height="3" fill="url(#g64)"/><rect x="0.833" y="-1" width="1.167" height="3" fill="url(#g65)"/></g></pattern>
<linearGradient id="g67" gradientUnits="userSpaceOnUse" x1="0" y1="0" x2="0" y2="1"><stop offset="0" stop-color="#0000e7"/><stop offset="0.083" stop-color="#0000e5"/><stop offset="0.167" stop-color="#0000e4"/><stop offset="0.25" stop-color="#0000e2"/><stop offset="0.333" stop-color="#0000e1"/><stop offset="0.417" stop-color="#0000df"/><stop offset="0.5" stop-color="#0000dd"/><stop offset="0.583" stop-color="#0000dc"/><stop offset="0.667" stop-color="#0000da"/><stop offset="0.75" stop-color="#0000d9"/><stop offset="0.833" stop-color="#0000d7"/><stop offset="0.917" stop-color="#0000d5"/><stop offset="1" stop-color="#0000d4"/></linearGradient>
<linearGradient id="g68" gradientUnits="userSpaceOnUse" x1="0" y1="0" x2="0" y2="1"><stop offset="0" stop-color="#0000e6"/><stop offset="0.083" stop-color="#0000e5"/><stop offset="0.167" stop-color="#0000e3"/><stop offset="0.25" stop-color="#0000e2"/><stop offset="0.333" stop-color="#0000e0"/><stop offset="0.417" stop-color="#0000df"/><stop offset="0.5" stop-color="#0000dd"/><stop offset="0.583" stop-color="#0000dc"/><stop offset="0.667" stop-color="#0000da"/><stop offset="0.75" stop-color="#0000d8"/><stop offset="0.833" stop-color="#0000d7"/><stop offset="0.917" stop-color="#0000d5"/><stop offset="1" stop-color="#0000d4"/></linearGradient>
<linearGradient id="g69" gradientUnits="userSpaceOnUse" x1="0" y1="0" x2="0" y2="1"><stop offset="0" stop-color="#0000e6"/><stop offset="0.083" stop-color="#0000e4"/><stop offset="0.167" stop-color="#0000e3"/><stop offset="0.25" stop-color="#0000e1"/><stop offset="0.333" stop-color="#0000e0"/><stop offset="0.417" stop-color="#0000de"/><stop offset="0.5" stop-color="#0000dd"/><stop offset="0.583" stop-color="#0000db"/><stop offset="0.667" stop-color="#0000da"/><stop offset="0.75" stop-color="#0000d8"/><stop offset="0.833" stop-color="#0000d7"/><stop offset="0.917" stop-color="#0000d5"/><stop offset="1" stop-color="#0000d4"/></linearGradient>
<linearGradient id="g70" gradientUnits="userSpaceOnUse" x1="0" y1="0" x2="0" y2="1"><stop offset="0" stop-color="#0000e5"/><stop offset="0.083" stop-color="#0000e4"/><stop offset="0.167" stop-color="#0000e2"/><stop offset="0.25" stop-color="#0000e1"/><stop offset="0.333" stop-color="#0000df"/><stop offset="0.417" stop-color="#0000de"/><stop offset="0.5" stop-color="#0000dc"/><stop offset="0.583" stop-color="#0000db"/><stop offset="0.667" stop-color="#0000da"/><stop offset="0.75" stop-color="#0000d8"/><stop offset="0.833" stop-color="#0000d7"/><stop offset="0.917" stop-color="#0000d5"/><stop offset="1" stop-color="#0000d4"/></linearGradient>
<linearGradient id="g71" gradientUnits="userSpaceOnUse" x1="0" y1="0" x2="0" y2="1"><stop offset="0" stop-color="#0000e4"/><stop offset="0.083" stop-color="#0000e3"/><stop offset="0.167" stop-color="#0000e2"/><stop offset="0.25" stop-color="#0000e0"/><stop offset="0.333" stop-color="#0000df"/><stop offset="0.417" stop-color="#0000de"/><stop offset="0.5" stop-color="#0000dc"/><stop offset="0.583" stop-color="#0000db"/><stop offset="0.667" stop-color="#0000d9"/><stop offset="0.75" stop-color="#0000d8"/><stop offset="0.833" stop-color="#0000d7"/><stop offset="0.917" stop-color="#0000d5"/><stop offset="1" stop-color="#0000d4"/></linearGradient>
<linearGradient id="g72" gradientUnits="userSpaceOnUse" x1="0" y1="0" x2="0" y2="1"><stop offset="0" stop-color="#0000e4"/><stop offset="0.083" stop-color="#0000e2"/><stop offset="0.167" stop-color="#0000e1"/><stop offset="0.25" stop-color="#0000e0"/><stop offset="0.333" stop-color="#0000de"/><stop offset="0.417" stop-color="#0000dd"/><stop offset="0.5" stop-color="#0000dc"/><stop offset="0.583" stop-color="#0000da"/><stop offset="0.667" stop-color="#0000d9"/><stop offset="0.75" stop-color="#0000d8"/><stop offset="0.833" stop-color="#0000d6"/><stop offset="0.917" stop-color="#0000d5"/><stop offset="1" stop-color="#0000d4"/></linearGradient>
<pattern id="p66" patternUnits="userSpaceOnUse" x="-1" y="-1" width="3" height="3"><g transform="translate(1 1)"><rect x="-1" y="-1" width="1.197" height="3" fill="url(#g67)"/><rect x="0.167" y="-1" width="0.197" height="3" fill="url(#g68)"/><rect x="0.333" y="-1" width="0.197" height="3" fill="url(#g69)"/><rect x="0.5" y="-1" width="0.197" height="3" fill="url(#g70)"/><rect x="0.667" y="-1" width="0.197" height="3" fill="url(#g71)"/><rect x="0.833" y="-1" width="1.167" height="3" fill="url(#g72)"/></g></pattern>
<linearGradient id="g74" gradientUnits="userSpaceOnUse" x1="0" y1="0" x2="0" y2="1"><stop offset="0" stop-color="#00b7ff"/><stop offset="0.083" stop-color="#00b6ff"/><stop offset="0.167" stop-color="#00b5ff"/><stop offset="0.25" stop-color="#00b4ff"/><stop offset="0.333" stop-color="#00b3ff"/><stop offset="0.417" stop-color="#00b2ff"/><stop offset="0.5" stop-color="#00b1ff"/><stop offset="0.583" stop-color="#00b0ff"/><stop offset="0.667" stop-color="#00afff"/><stop offset="0.75" stop-color="#00aeff"/><stop offset="0.833" stop-color="#00adff"/><stop offset="0.917" stop-color="#00acff"/><stop offset="1" stop-color="#00abff"/></linearGradient>
<linearGradient id="g75" gradientUnits="userSpaceOnUse" x1="0" y1="0" x2="0" y2="1"><stop offset="0" stop-color="#00b6ff"/><stop offset="0.083" stop-color="#00b5ff"/><stop offset="0.167" stop-color="#00b4ff"/><stop offset="0.25" stop-color="#00b3ff"/><stop offset="0.333" stop-color="#00b2ff"/><stop offset="0.417" stop-color="#00b1ff"/><stop offset="0.5" stop-color="#00b0ff"/><stop offset="0.583" stop-color="#00afff"/><stop offset="0.667" stop-color="#00aeff"/><stop offset="0.75" stop-color="#00adff"/><stop offset="0.833" stop-color="#00acff"/><stop offset="0.917" stop-color="#00acff"/><stop offset="1" stop-color="#00abff"/></linearGradient>
<linearGradient id="g76" gradientUnits="userSpaceOnUse" x1="0" y1="0" x2="0" y2="1"><stop offset="0" stop-color="#00b5ff"/><stop offset="0.083" stop-color="#00b4ff"/><stop offset="0.167" stop-color="#00b3ff"/><stop offset="0.25" stop-color="#00b2ff"/><stop offset="0.333" stop-color="#00b1ff"/><stop offset="0.417" stop-color="#00b0ff"/><stop offset="0.5" stop-color="#00b0ff"/><stop offset="0.583" stop-color="#00afff"/><stop offset="0.667" stop-color="#00aeff"/><stop offset="0.75" stop-color="#00adff"/><stop offset="0.833" stop-color="#00acff"/><stop offset="0.917" stop-color="#00abff"/><stop offset="1" stop-color="#00abff"/></linearGradient>
<linearGradient id="g77" gradientUnits="userSpaceOnUse" x1="0" y1="0" x2="0" y2="1"><stop offset="0" stop-color="#00b3ff"/><stop offset="0.083" stop-color="#00b3ff"/><stop offset="0.167" stop-color="#00b2ff"/><stop offset="0.25" stop-color="#00b1ff"/><stop offset="0.333" stop-color="#00b1ff"/><stop offset="0.417" stop-color="#00b0ff"/><stop offset="0.5" stop-color="#00afff"/><stop offset="0.583" stop-color="#00aeff"/><stop offset="0.667" stop-color="#00aeff"/><stop offset="0.75" stop-color="#00adff"/><stop offset="0.833" stop-color="#00acff"/><stop offset="0.917" stop-color="#00abff"/><stop offset="1" stop-color="#00abff"/></linearGradient>
<linearGradient id="g78" gradientUnits="userSpaceOnUse" x1="0" y1="0" x2="0" y2="1"><stop offset="0" stop-color="#00b2ff"/><stop offset="0.083" stop-color="#00b2ff"/><stop offset="0.167" stop-color="#00b1ff"/><stop offset="0.25" stop-color="#00b1ff"/><stop offset="0.333" stop-color="#00b0ff"/><stop offset="0.417" stop-color="#00afff"/><stop offset="0.5" stop-color="#00afff"/><stop offset="0.583" stop-color="#00aeff"/><stop offset="0.667" stop-color="#00adff"/><stop offset="0.75" stop-color="#00adff"/><stop offset="0.833" stop-color="#00acff"/><stop offset="0.917" stop-color="#00abff"/><stop offset="1" stop-color="#00abff"/></linearGradient>
<linearGradient id="g79" gradientUnits="userSpaceOnUse" x1="0" y1="0" x2="0" y2="1"><stop offset="0" stop-color="#00b1ff"/><stop offset="0.083" stop-color="#00b1ff"/><stop offset="0.167" stop-color="#00b0ff"/><stop offset="0.25" stop-color="#00b0ff"/><stop offset="0.333" stop-color="#00afff"/><stop offset="0.417" stop-color="#00afff"/><stop offset="0.5" stop-color="#00aeff"/><stop offset="0.583" stop-color="#00adff"/><stop offset="0.667" stop-color="#00adff"/><stop offset="0.75" stop-color="#00acff"/><stop offset="0.833" stop-color="#00acff"/><stop offset="0.917" stop-color="#00abff"/><stop offset="1" stop-color="#00abff"/></linearGradient>
<pattern id="p73" patternUnits="userSpaceOnUse" x="-1" y="-1" width="3" height="3"><g transform="translate(1 1)"><rect x="-1" y="-1" width="1.197" height="3" fill="url(#g74)"/><rect x="0.167" y="-1" width="0.197" height="3" fill="url(#g75)"/><rect x="0.333" y="-1" width="0.197" height="3" fill="url(#g76)"/><rect x="0.5" y="-1" width="0.197" height="3" fill="url(#g77)"/><rect x="0.667" y="-1" width="0.197" height="3" fill="url(#g78)"/><rect x="0.833" y="-1" width="1.167" height="3" fill="url(#g79)"/></g></pattern>
<linearGradient id="g81" gradientUnits="userSpaceOnUse" x1="0" y1="0" x2="0" y2="1"><stop offset="0" stop-color="#ffdc00"/><stop offset="0.083" stop-color="#ffe700"/><stop offset="0.167" stop-color="#fff000"/><stop offset="0.25" stop-color="#fffa00"/><stop offset="0.333" stop-color="#f6ff02"/><stop offset="0.417" stop-color="#e6ff05"/><stop offset="0.5" stop-color="#d6ff08"/><stop offset="0.583" stop-color="#c2fd11"/><stop offset="0.667" stop-color="#acfb1c"/><stop offset="0.75" stop-color="#96f927"/><stop offset="0.833" stop-color="#7ef931"/><stop offset="0.917" stop-color="#65f73d"/><stop offset="1" stop-color="#49f64c"/></linearGradient>
<linearGradient id="g82" gradientUnits="userSpaceOnUse" x1="0" y1="0" x2="0" y2="1"><stop offset="0" stop-color="#ffd300"/><stop offset="0.083" stop-color="#ffe000"/><stop offset="0.167" stop-color="#ffea00"/><stop offset="0.25" stop-color="#fff300"/><stop offset="0.333" stop-color="#fffd00"/><stop offset="0.417" stop-color="#f2ff02"/><stop offset="0.5" stop-color="#e2ff05"/><stop offset="0.583" stop-color="#d2ff09"/><stop offset="0.667" stop-color="#bdfd14"/><stop offset="0.75" stop-color="#a8fa1e"/><stop offset="0.833" stop-color="#91f929"/><stop offset="0.917" stop-color="#7af833"/><stop offset="1" stop-color="#60f740"/></linearGradient>
<linearGradient id="g83" gradientUnits="userSpaceOnUse" x1="0" y1="0" x2="0" y2="1"><stop offset="0" stop-color="#ffcb00"/><stop offset="0.083" stop-color="#ffd700"/><stop offset="0.167" stop-color="#ffe300"/><stop offset="0.25" stop-color="#ffec00"/><stop offset="0.333" stop-color="#fff600"/><stop offset="0.417" stop-color="#feff00"/><stop offset="0.5" stop-color="#eeff03"/><stop offset="0.583" stop-color="#dfff06"/><stop offset="0.667" stop-color="#cdfe0b"/><stop offset="0.75" stop-color="#b8fc16"/><stop offset="0.833" stop-color="#a3fa20"/><stop offset="0.917" stop-color="#8df92b"/><stop offset="1" stop-color="#76f835"/></linearGradient>
<linearGradient id="g84" gradientUnits="userSpaceOnUse" x1="0" y1="0" x2="0" y2="1"><stop offset="0" stop-color="#ffc300"/><stop offset="0.083" stop-color="#ffcf00"/><stop offset="0.167" stop-color="#ffdb00"/><stop offset="0.25" stop-color="#ffe500"/><stop offset="0.333" stop-color="#ffef00"/><stop offset="0.417" stop-color="#fff800"/><stop offset="0.5" stop-color="#faff01"/><stop offset="0.583" stop-color="#ebff04"/><stop offset="0.667" stop-color="#dbff07"/><stop offset="0.75" stop-color="#c9fe0d"/><stop offset="0.833" stop-color="#b5fc18"/><stop offset="0.917" stop-color="#a0fa22"/><stop offset="1" stop-color="#89f92c"/></linearGradient>
<linearGradient id="g85" gradientUnits="userSpaceOnUse" x1="0" y1="0" x2="0" y2="1"><stop offset="0" stop-color="#ffba00"/><stop offset="0.083" stop-color="#ffc600"/><stop offset="0.167" stop-color="#ffd200"/><stop offset="0.25" stop-color="#ffde00"/><stop offset="0.333" stop-color="#ffe800"/><stop offset="0.417" stop-color="#fff100"/><stop offset="0.5" stop-color="#fffb00"/><stop offset="0.583" stop-color="#f7ff02"/><stop offset="0.667" stop-color="#e8ff04"/><stop offset="0.75" stop-color="#d8ff07"/><stop offset="0.833" stop-color="#c6fe0f"/><stop offset="0.917" stop-color="#b1fb19"/><stop offset="1" stop-color="#9cfa24"/></linearGradient>
<linearGradient id="g86" gradientUnits="userSpaceOnUse" x1="0" y1="0" x2="0" y2="1"><stop offset="0" stop-color="#ffb200"/><stop offset="0.083" stop-color="#ffbe00"/><stop offset="0.167" stop-color="#ffc900"/><stop offset="0.25" stop-color="#ffd500"/><stop offset="0.333" stop-color="#ffe100"/><stop offset="0.417" stop-color="#ffea00"/><stop offset="0.5" stop-color="#fff300"/><stop offset="0.583" stop-color="#fffc00"/><stop offset="0.667" stop-color="#f4ff02"/><stop offset="0.75" stop-color="#e5ff05"/><stop offset="0.833" stop-color="#d6ff08"/><stop offset="0.917" stop-color="#c3fd11"/><stop offset="1" stop-color="#aefb1b"/></linearGradient>
<pattern id="p80" patternUnits="userSpaceOnUse" x="-1" y="-1" width="3" height="3"><g transform="translate(1 1)"><rect x="-1" y="-1" width="1.197" height="3" fill="url(#g81)"/><rect x="0.167" y="-1" width="0.197" height="3" fill="url(#g82)"/><rect x="0.333" y="-1" width="0.197" height="3" fill="url(#g83)"/><rect x="0.5" y="-1" width="0.197" height="3" fill="url(#g84)"/><rect x="0.667" y="-1" width="0.197" height="3" fill="url(#g85)"/><rect x="0.833" y="-1" width="1.167" height="3" fill="url(#g86)"/></g></pattern>
<linearGradient id="g88" gradientUnits="userSpaceOnUse" x1="0" y1="0" x2="0" y2="1"><stop offset="0" stop-color="#00f19c"/><stop offset="0.083" stop-color="#00f2a8"/><stop offset="0.167" stop-color="#00f2b5"/><stop offset="0.25" stop-color="#00f2c2"/><stop offset="0.333" stop-color="#00f2ce"/><stop offset="0.417" stop-color="#00f2db"/><stop offset="0.5" stop-color="#00f2e8"/><stop offset="0.583" stop-color="#00f3f4"/><stop offset="0.667" stop-color="#00f2ff"/><stop offset="0.75" stop-color="#00e4ff"/><stop offset="0.833" stop-color="#00d6ff"/><stop offset="0.917" stop-color="#00c7ff"/><stop offset="1" stop-color="#00b9ff"/></linearGradient>
<linearGradient id="g89" gradientUnits="userSpaceOnUse" x1="0" y1="0" x2="0" y2="1"><stop offset="0" stop-color="#00f2a3"/><stop offset="0.083" stop-color="#00f2ae"/><stop offset="0.167" stop-color="#00f2ba"/><stop offset="0.25" stop-color="#00f2c6"/><stop offset="0.333" stop-color="#00f2d2"/><stop offset="0.417" stop-color="#00f2de"/><stop offset="0.5" stop-color="#00f2ea"/><stop offset="0.583" stop-color="#00f3f6"/><stop offset="0.667" stop-color="#00f1ff"/><stop offset="0.75" stop-color="#00e4ff"/><stop offset="0.833" stop-color="#00d7ff"/><stop offset="0.917" stop-color="#00c9ff"/><stop offset="1" stop-color="#00bcff"/></linearGradient>
<linearGradient id="g90" gradientUnits="userSpaceOnUse" x1="0" y1="0" x2="0" y2="1"><stop offset="0" stop-color="#00f2aa"/><stop offset="0.083" stop-color="#00f2b5"/><stop offset="0.167" stop-color="#00f2c0"/><stop offset="0.25" stop-color="#00f2cb"/><stop offset="0.333" stop-color="#00f2d6"/><stop offset="0.417" stop-color="#00f2e1"/><stop offset="0.5" stop-color="#00f3ec"/><stop offset="0.583" stop-color="#00f3f7"/><stop offset="0.667" stop-color="#00f0ff"/><stop offset="0.75" stop-color="#00e4ff"/><stop offset="0.833" stop-color="#00d8ff"/><stop offset="0.917" stop-color="#00ccff"/><stop offset="1" stop-color="#00bfff"/></linearGradient>
<linearGradient id="g91" gradientUnits="userSpaceOnUse" x1="0" y1="0" x2="0" y2="1"><stop offset="0" stop-color="#00f2b1"/><stop offset="0.083" stop-color="#00f2bb"/><stop offset="0.167" stop-color="#00f2c6"/><stop offset="0.25" stop-color="#00f2d0"/><stop offset="0.333" stop-color="#00f2da"/><stop offset="0.417" stop-color="#00f2e4"/><stop offset="0.5" stop-color="#00f3ef"/><stop offset="0.583" stop-color="#00f4f9"/><stop offset="0.667" stop-color="#00f0ff"/><stop offset="0.75" stop-color="#00e4ff"/><stop offset="0.833" stop-color="#00d9ff"/><stop offset="0.917" stop-color="#00ceff"/><stop offset="1" stop-color="#00c2ff"/></linearGradient>
<linearGradient id="g92" gradientUnits="userSpaceOnUse" x1="0" y1="0" x2="0" y2="1"><stop offset="0" stop-color="#00f2b8"/><stop offset="0.083" stop-color="#00f2c2"/><stop offset="0.167" stop-color="#00f2cb"/><stop offset="0.25" stop-color="#00f2d5"/><stop offset="0.333" stop-color="#00f2de"/><stop offset="0.417" stop-color="#00f2e7"/><stop offset="0.5" stop-color="#00f3f1"/><stop offset="0.583" stop-color="#00f4fa"/><stop offset="0.667" stop-color="#00efff"/><stop offset="0.75" stop-color="#00e5ff"/><stop offset="0.833" stop-color="#00daff"/><stop offset="0.917" stop-color="#00d0ff"/><stop offset="1" stop-color="#00c5ff"/></linearGradient>
<linearGradient id="g93" gradientUnits="userSpaceOnUse" x1="0" y1="0" x2="0" y2="1"><stop offset="0" stop-color="#00f2c0"/><stop offset="0.083" stop-color="#00f2c8"/><stop offset="0.167" stop-color="#00f2d1"/><stop offset="0.25" stop-color="#00f2d9"/><stop offset="0.333" stop-color="#00f2e2"/><stop offset="0.417" stop-color="#00f2eb"/><stop offset="0.5" stop-color="#00f3f3"/><stop offset="0.583" stop-color="#00f4fc"/><stop offset="0.667" stop-color="#00eeff"/><stop offset="0.75" stop-color="#00e5ff"/><stop offset="0.833" stop-color="#00dbff"/><stop offset="0.917" stop-color="#00d2ff"/><stop offset="1" stop-color="#00c8ff"/></linearGradient>
<pattern id="p87" patternUnits="userSpaceOnUse" x="-1" y="-1" width="3" height="3"><g transform="translate(1 1)"><rect x="-1" y="-1" width="1.197" height="3" fill="url(#g88)"/><rect x="0.167" y="-1" width="0.197" height="3" fill="url(#g89)"/><rect x="0.333" y="-1" width="0.197" height="3" fill="url(#g90)"/><rect x="0.5" y="-1" width="0.197" height="3" fill="url(#g91)"/><rect x="0.667" y="-1" width="0.197" height="3" fill="url(#g92)"/><rect x="0.833" y="-1" width="1.167" height="3" fill="url(#g93)"/></g></pattern>
<linearGradient id="g95" gradientUnits="userSpaceOnUse" x1="0" y1="0" x2="0" y2="1"><stop offset="0" stop-color="#005fff"/><stop offset="0.083" stop-color="#005bff"/><stop offset="0.167" stop-color="#0057ff"/><stop offset="0.25" stop-color="#0052ff"/><stop offset="0.333" stop-color="#004eff"/><stop offset="0.417" stop-color="#0049ff"/><stop offset="0.5" stop-color="#0045ff"/><stop offset="0.583" stop-color="#0040ff"/><stop offset="0.667" stop-color="#003cff"/><stop offset="0.75" stop-color="#0037ff"/><stop offset="0.833" stop-color="#0033ff"/><stop offset="0.917" stop-color="#002fff"/><stop offset="1" stop-color="#002bff"/></linearGradient>
<linearGradient id="g96" gradientUnits="userSpaceOnUse" x1="0" y1="0" x2="0" y2="1"><stop offset="0" stop-color="#005bff"/><stop offset="0.083" stop-color="#0057ff"/><stop offset="0.167" stop-color="#0052ff"/><stop offset="0.25" stop-color="#004eff"/><stop offset="0.333" stop-color="#004aff"/><stop offset="0.417" stop-color="#0046ff"/><stop offset="0.5" stop-color="#0042ff"/><stop offset="0.583" stop-color="#003eff"/><stop offset="0.667" stop-color="#0039ff"/><stop offset="0.75" stop-color="#0035ff"/><stop offset="0.833" stop-color="#0031ff"/><stop offset="0.917" stop-color="#002dff"/><stop offset="1" stop-color="#0029ff"/></linearGradient>
<linearGradient id="g97" gradientUnits="userSpaceOnUse" x1="0" y1="0" x2="0" y2="1"><stop offset="0" stop-color="#0056ff"/><stop offset="0.083" stop-color="#0052ff"/><stop offset="0.167" stop-color="#004eff"/><stop offset="0.25" stop-color="#004aff"/><stop offset="0.333" stop-color="#0047ff"/><stop offset="0.417" stop-color="#0043ff"/><stop offset="0.5" stop-color="#003fff"/><stop offset="0.583" stop-color="#003bff"/><stop offset="0.667" stop-color="#0037ff"/><stop offset="0.75" stop-color="#0033ff"/><stop offset="0.833" stop-color="#002fff"/><stop offset="0.917" stop-color="#002bff"/><stop offset="1" stop-color="#0028ff"/></linearGradient>
<linearGradient id="g98" gradientUnits="userSpaceOnUse" x1="0" y1="0" x2="0" y2="1"><stop offset="0" stop-color="#0052ff"/><stop offset="0.083" stop-color="#004eff"/><stop offset="0.167" stop-color="#004aff"/><stop offset="0.25" stop-color="#0047ff"/><stop offset="0.333" stop-color="#0043ff"/><stop offset="0.417" stop-color="#003fff"/><stop offset="0.5" stop-color="#003cff"/><stop offset="0.583" stop-color="#0038ff"/><stop offset="0.667" stop-color="#0034ff"/><stop offset="0.75" stop-color="#0031ff"/><stop offset="0.833" stop-color="#002dff"/><stop offset="0.917" stop-color="#002aff"/><stop offset="1" stop-color="#0026ff"/></linearGradient>
<linearGradient id="g99" gradientUnits="userSpaceOnUse" x1="0" y1="0" x2="0" y2="1"><stop offset="0" stop-color="#004dff"/><stop offset="0.083" stop-color="#004aff"/><stop offset="0.167" stop-color="#0046ff"/><stop offset="0.25" stop-color="#0043ff"/><stop offset="0.333" stop-color="#003fff"/><stop offset="0.417" stop-color="#003cff"/><stop offset="0.5" stop-color="#0039ff"/><stop offset="0.583" stop-color="#0035ff"/><stop offset="0.667" stop-color="#0032ff"/><stop offset="0.75" stop-color="#002fff"/><stop offset="0.833" stop-color="#002bff"/><stop offset="0.917" stop-color="#0028ff"/><stop offset="1" stop-color="#0025ff"/></linearGradient>
<linearGradient id="g100" gradientUnits="userSpaceOnUse" x1="0" y1="0" x2="0" y2="1"><stop offset="0" stop-color="#0049ff"/><stop offset="0.083" stop-color="#0045ff"/><stop offset="0.167" stop-color="#0042ff"/><stop offset="0.25" stop-color="#003fff"/><stop offset="0.333" stop-color="#003cff"/><stop offset="0.417" stop-color="#0039ff"/><stop offset="0.5" stop-color="#0036ff"/><stop offset="0.583" stop-color="#0032ff"/><stop offset="0.667" stop-color="#002fff"/><stop offset="0.75" stop-color="#002cff"/><stop offset="0.833" stop-color="#0029ff"/><stop offset="0.917" stop-color="#0026ff"/><stop offset="1" stop-color="#0023ff"/></linearGradient>
<pattern id="p94" patternUnits="userSpaceOnUse" x="-1" y="-1" width="3" height="3"><g transform="translate(1 1)"><rect x="-1" y="-1" width="1.197" height="3" fill="url(#g95)"/><rect x="0.167" y="-1" width="0.197" height="3" fill="url(#g96)"/><rect x="0.333" y="-1" width="0.197" height="3" fill="url(#g97)"/><rect x="0.5" y="-1" width="0.197" height="3" fill="url(#g98)"/><rect x="0.667" y="-1" width="0.197" height="3" fill="url(#g99)"/><rect x="0.833" y="-1" width="1.167" height="3" fill="url(#g100)"/></g></pattern>
<linearGradient id="g102" gradientUnits="userSpaceOnUse" x1="0" y1="0" x2="0" y2="1"><stop offset="0" stop-color="#0000f3"/><stop offset="0.083" stop-color="#0000f1"/><stop offset="0.167" stop-color="#0000f0"/><stop offset="0.25" stop-color="#0000ee"/><stop offset="0.333" stop-color="#0000ec"/><stop offset="0.417" stop-color="#0000eb"/><stop offset="0.5" stop-color="#0000e9"/><stop offset="0.583" stop-color="#0000e8"/><stop offset="0.667" stop-color="#0000e6"/><stop offset="0.75" stop-color="#0000e4"/><stop offset="0.833" stop-color="#0000e3"/><stop offset="0.917" stop-color="#0000e1"/><stop offset="1" stop-color="#0000e0"/></linearGradient>
<linearGradient id="g103" gradientUnits="userSpaceOnUse" x1="0" y1="0" x2="0" y2="1"><stop offset="0" stop-color="#0000f2"/><stop offset="0.083" stop-color="#0000f1"/><stop offset="0.167" stop-color="#0000ef"/><stop offset="0.25" stop-color="#0000ee"/><stop offset="0.333" stop-color="#0000ec"/><stop offset="0.417" stop-color="#0000ea"/><stop offset="0.5" stop-color="#0000e9"/><stop offset="0.583" stop-color="#0000e7"/><stop offset="0.667" stop-color="#0000e6"/><stop offset="0.75" stop-color="#0000e4"/><stop offset="0.833" stop-color="#0000e3"/><stop offset="0.917" stop-color="#0000e1"/><stop offset="1" stop-color="#0000e0"/></linearGradient>
<linearGradient id="g104" gradientUnits="userSpaceOnUse" x1="0" y1="0" x2="0" y2="1"><stop offset="0" stop-color="#0000f2"/><stop offset="0.083" stop-color="#0000f0"/><stop offset="0.167" stop-color="#0000ef"/><stop offset="0.25" stop-color="#0000ed"/><stop offset="0.333" stop-color="#0000ec"/><stop offset="0.417" stop-color="#0000ea"/><stop offset="0.5" stop-color="#0000e9"/><stop offset="0.583" stop-color="#0000e7"/><stop offset="0.667" stop-color="#0000e6"/><stop offset="0.75" stop-color="#0000e4"/><stop offset="0.833" stop-color="#0000e3"/><stop offset="0.917" stop-color="#0000e1"/><stop offset="1" stop-color="#0000e0"/></linearGradient>
<linearGradient id="g105" gradientUnits="userSpaceOnUse" x1="0" y1="0" x2="0" y2="1"><stop offset="0" stop-color="#0000f1"/><stop offset="0.083" stop-color="#0000ef"/><stop offset="0.167" stop-color="#0000ee"/><stop offset="0.25" stop-color="#0000ed"/><stop offset="0.333" stop-color="#0000eb"/><stop offset="0.417" stop-color="#0000ea"/><stop offset="0.5" stop-color="#0000e8"/><stop offset="0.583" stop-color="#0000e7"/><stop offset="0.667" stop-color="#0000e5"/><stop offset="0.75" stop-color="#0000e4"/><stop offset="0.833" stop-color="#0000e2"/><stop offset="0.917" stop-color="#0000e1"/><stop offset="1" stop-color="#0000e0"/></linearGradient>
<linearGradient id="g106" gradientUnits="userSpaceOnUse" x1="0" y1="0" x2="0" y2="1"><stop offset="0" stop-color="#0000f0"/><stop offset="0.083" stop-color="#0000ef"/><stop offset="0.167" stop-color="#0000ed"/><stop offset="0.25" stop-color="#0000ec"/><stop offset="0.333" stop-color="#0000eb"/><stop offset="0.417" stop-color="#0000e9"/><stop offset="0.5" stop-color="#0000e8"/><stop offset="0.583" stop-color="#0000e7"/><stop offset="0.667" stop-color="#0000e5"/><stop offset="0.75" stop-color="#0000e4"/><stop offset="0.833" stop-color="#0000e2"/><stop offset="0.917" stop-color="#0000e1"/><stop offset="1" stop-color="#0000e0"/></linearGradient>
<linearGradient id="g107" gradientUnits="userSpaceOnUse" x1="0" y1="0" x2="0" y2="1"><stop offset="0" stop-color="#0000f0"/><stop offset="0.083" stop-color="#0000ee"/><stop offset="0.167" stop-color="#0000ed"/><stop offset="0.25" stop-color="#0000ec"/><stop offset="0.333" stop-color="#0000ea"/><stop offset="0.417" stop-color="#0000e9"/><stop offset="0.5" stop-color="#0000e8"/><stop offset="0.583" stop-color="#0000e6"/><stop offset="0.667" stop-color="#0000e5"/><stop offset="0.75" stop-color="#0000e4"/><stop offset="0.833" stop-color="#0000e2"/><stop offset="0.917" stop-color="#0000e1"/><stop offset="1" stop-color="#0000e0"/></linearGradient>
<pattern id="p101" patternUnits="userSpaceOnUse" x="-1" y="-1" width="3" height="3"><g transform="translate(1 1)"><rect x="-1" y="-1" width="1.197" height="3" fill="url(#g102)"/><rect x="0.167" y="-1" width="0.197" height="3" fill="url(#g103)"/><rect x="0.333" y="-1" width="0.197" height="3" fill="url(#g104)"/><rect x="0.5" y="-1" width="0.197" height="3" fill="url(#g105)"/><rect x="0.667" y="-1" width="0.197" height="3" fill="url(#g106)"/><rect x="0.833" y="-1" width="1.167" height="3" fill="url(#g107)"/></g></pattern>
<linearGradient id="g109" gradientUnits="userSpaceOnUse" x1="0" y1="0" x2="0" y2="1"><stop offset="0" stop-color="#80f930"/><stop offset="0.083" stop-color="#7cf832"/><stop offset="0.167" stop-color="#77f835"/><stop offset="0.25" stop-color="#73f837"/><stop offset="0.333" stop-color="#6ef839"/><stop offset="0.417" stop-color="#68f83c"/><stop offset="0.5" stop-color="#63f73f"/><stop offset="0.583" stop-color="#5df741"/><stop offset="0.667" stop-color="#57f644"/><stop offset="0.75" stop-color="#52f647"/><stop offset="0.833" stop-color="#4cf64a"/><stop offset="0.917" stop-color="#47f54d"/><stop offset="1" stop-color="#41f54f"/></linearGradient>
<linearGradient id="g110" gradientUnits="userSpaceOnUse" x1="0" y1="0" x2="0" y2="1"><stop offset="0" stop-color="#8df92b"/><stop offset="0.083" stop-color="#88f92d"/><stop offset="0.167" stop-color="#83f92f"/><stop offset="0.25" stop-color="#7ef932"/><stop offset="0.333" stop-color="#79f834"/><stop offset="0.417" stop-color="#74f836"/><stop offset="0.5" stop-color="#6ef839"/><stop offset="0.583" stop-color="#68f83c"/><stop offset="0.667" stop-color="#62f73f"/><stop offset="0.75" stop-color="#5cf742"/><stop offset="0.833" stop-color="#56f645"/><stop offset="0.917" stop-color="#50f648"/><stop offset="1" stop-color="#4af64b"/></linearGradient>
<linearGradient id="g111" gradientUnits="userSpaceOnUse" x1="0" y1="0" x2="0" y2="1"><stop offset="0" stop-color="#99fa25"/><stop offset="0.083" stop-color="#93f928"/><stop offset="0.167" stop-color="#8ef92a"/><stop offset="0.25" stop-color="#88f92d"/><stop offset="0.333" stop-color="#83f92f"/><stop offset="0.417" stop-color="#7ef932"/><stop offset="0.5" stop-color="#78f834"/><stop offset="0.583" stop-color="#73f837"/><stop offset="0.667" stop-color="#6df83a"/><stop offset="0.75" stop-color="#66f73d"/><stop offset="0.833" stop-color="#5ff740"/><stop offset="0.917" stop-color="#59f744"/><stop offset="1" stop-color="#52f647"/></linearGradient>
<linearGradient id="g112" gradientUnits="userSpaceOnUse" x1="0" y1="0" x2="0" y2="1"><stop offset="0" stop-color="#a5fa20"/><stop offset="0.083" stop-color="#9ffa22"/><stop offset="0.167" stop-color="#99fa25"/><stop offset="0.25" stop-color="#93f928"/><stop offset="0.333" stop-color="#8df92a"/><stop offset="0.417" stop-color="#88f92d"/><stop offset="0.5" stop-color="#82f930"/><stop offset="0.583" stop-color="#7cf833"/><stop offset="0.667" stop-color="#76f835"/><stop offset="0.75" stop-color="#70f838"/><stop offset="0.833" stop-color="#69f83b"/><stop offset="0.917" stop-color="#62f73f"/><stop offset="1" stop-color="#5bf743"/></linearGradient>
<linearGradient id="g113" gradientUnits="userSpaceOnUse" x1="0" y1="0" x2="0" y2="1"><stop offset="0" stop-color="#b0fb1a"/><stop offset="0.083" stop-color="#aafb1d"/><stop offset="0.167" stop-color="#a4fa20"/><stop offset="0.25" stop-color="#9efa23"/><stop offset="0.333" stop-color="#98fa26"/><stop offset="0.417" stop-color="#92f929"/><stop offset="0.5" stop-color="#8bf92b"/><stop offset="0.583" stop-color="#85f92e"/><stop offset="0.667" stop-color="#7ff931"/><stop offset="0.75" stop-color="#78f834"/><stop offset="0.833" stop-color="#72f837"/><stop offset="0.917" stop-color="#6bf83b"/><stop offset="1" stop-color="#63f73e"/></linearGradient>
<linearGradient id="g114" gradientUnits="userSpaceOnUse" x1="0" y1="0" x2="0" y2="1"><stop offset="0" stop-color="#bbfc14"/><stop offset="0.083" stop-color="#b5fc17"/><stop offset="0.167" stop-color="#affb1b"/><stop offset="0.25" stop-color="#a9fa1e"/><stop offset="0.333" stop-color="#a2fa21"/><stop offset="0.417" stop-color="#9cfa24"/><stop offset="0.5" stop-color="#95f927"/><stop offset="0.583" stop-color="#8ef92a"/><stop offset="0.667" stop-color="#87f92d"/><stop offset="0.75" stop-color="#81f930"/><stop offset="0.833" stop-color="#7af833"/><stop offset="0.917" stop-color="#73f836"/><stop offset="1" stop-color="#6cf83a"/></linearGradient>
<pattern id="p108" patternUnits="userSpaceOnUse" x="-1" y="-1" width="3" height="3"><g transform="translate(1 1)"><rect x="-1" y="-1" width="1.197" height="3" fill="url(#g109)"/><rect x="0.167" y="-1" width="0.197" height="3" fill="url(#g110)"/><rect x="0.333" y="-1" width="0.197" height="3" fill="url(#g111)"/><rect x="0.5" y="-1" width="0.197" height="3" fill="url(#g112)"/><rect x="0.667" y="-1" width="0.197" height="3" fill="url(#g113)"/><rect x="0.833" y="-1" width="1.167" height="3" fill="url(#g114)"/></g></pattern>
<linearGradient id="g116" gradientUnits="userSpaceOnUse" x1="0" y1="0" x2="0" y2="1"><stop offset="0" stop-color="#a80008"/><stop offset="0.083" stop-color="#b60006"/><stop offset="0.167" stop-color="#c40003"/><stop offset="0.25" stop-color="#d20001"/><stop offset="0.333" stop-color="#e10000"/><stop offset="0.417" stop-color="#ed0000"/><stop offset="0.5" stop-color="#f80000"/><stop offset="0.583" stop-color="#fd0900"/><stop offset="0.667" stop-color="#ff1c00"/><stop offset="0.75" stop-color="#ff3600"/><stop offset="0.833" stop-color="#ff5500"/><stop offset="0.917" stop-color="#ff7600"/><stop offset="1" stop-color="#ff9600"/></linearGradient>
<linearGradient id="g117" gradientUnits="userSpaceOnUse" x1="0" y1="0" x2="0" y2="1"><stop offset="0" stop-color="#a80008"/><stop offset="0.083" stop-color="#b60006"/><stop offset="0.167" stop-color="#c50003"/><stop offset="0.25" stop-color="#d30001"/><stop offset="0.333" stop-color="#e20000"/><stop offset="0.417" stop-color="#ee0000"/><stop offset="0.5" stop-color="#f80100"/><stop offset="0.583" stop-color="#fd0900"/><stop offset="0.667" stop-color="#ff1e00"/><stop offset="0.75" stop-color="#ff3800"/><stop offset="0.833" stop-color="#ff5800"/><stop offset="0.917" stop-color="#ff7900"/><stop offset="1" stop-color="#ff9900"/></linearGradient>
<linearGradient id="g118" gradientUnits="userSpaceOnUse" x1="0" y1="0" x2="0" y2="1"><stop offset="0" stop-color="#a80008"/><stop offset="0.083" stop-color="#b70006"/><stop offset="0.167" stop-color="#c60003"/><stop offset="0.25" stop-color="#d40001"/><stop offset="0.333" stop-color="#e20000"/><stop offset="0.417" stop-color="#ee0000"/><stop offset="0.5" stop-color="#f90100"/><stop offset="0.583" stop-color="#fe0a00"/><stop offset="0.667" stop-color="#ff2000"/><stop offset="0.75" stop-color="#ff3a00"/><stop offset="0.833" stop-color="#ff5a00"/><stop offset="0.917" stop-color="#ff7c00"/><stop offset="1" stop-color="#ff9c00"/></linearGradient>
<linearGradient id="g119" gradientUnits="userSpaceOnUse" x1="0" y1="0" x2="0" y2="1"><stop offset="0" stop-color="#a80008"/><stop offset="0.083" stop-color="#b70005"/><stop offset="0.167" stop-color="#c60003"/><stop offset="0.25" stop-color="#d50000"/><stop offset="0.333" stop-color="#e30000"/><stop offset="0.417" stop-color="#ef0000"/><stop offset="0.5" stop-color="#f90200"/><stop offset="0.583" stop-color="#fe0b00"/><stop offset="0.667" stop-color="#ff2200"/><stop offset="0.75" stop-color="#ff3c00"/><stop offset="0.833" stop-color="#ff5d00"/><stop offset="0.917" stop-color="#ff7f00"/><stop offset="1" stop-color="#ffa000"/></linearGradient>
<linearGradient id="g120" gradientUnits="userSpaceOnUse" x1="0" y1="0" x2="0" y2="1"><stop offset="0" stop-color="#a80008"/><stop offset="0.083" stop-color="#b70005"/><stop offset="0.167" stop-color="#c70003"/><stop offset="0.25" stop-color="#d70000"/><stop offset="0.333" stop-color="#e40000"/><stop offset="0.417" stop-color="#f00000"/><stop offset="0.5" stop-color="#f90200"/><stop offset="0.583" stop-color="#fe0b00"/><stop offset="0.667" stop-color="#ff2400"/><stop offset="0.75" stop-color="#ff3f00"/><stop offset="0.833" stop-color="#ff6000"/><stop offset="0.917" stop-color="#ff8200"/><stop offset="1" stop-color="#ffa300"/></linearGradient>
<linearGradient id="g121" gradientUnits="userSpaceOnUse" x1="0" y1="0" x2="0" y2="1"><stop offset="0" stop-color="#a80008"/><stop offset="0.083" stop-color="#b80005"/><stop offset="0.167" stop-color="#c80003"/><stop offset="0.25" stop-color="#d80000"/><stop offset="0.333" stop-color="#e40000"/><stop offset="0.417" stop-color="#f10000"/><stop offset="0.5" stop-color="#fa0300"/><stop offset="0.583" stop-color="#ff0c00"/><stop offset="0.667" stop-color="#ff2600"/><stop offset="0.75" stop-color="#ff4100"/><stop offset="0.833" stop-color="#ff6300"/><stop offset="0.917" stop-color="#ff8500"/><stop offset="1" stop-color="#ffa600"/></linearGradient>
<pattern id="p115" patternUnits="userSpaceOnUse" x="-1" y="-1" width="3" height="3"><g transform="translate(1 1)"><rect x="-1" y="-1" width="1.197" height="3" fill="url(#g116)"/><rect x="0.167" y="-1" width="0.197" height="3" fill="url(#g117)"/><rect x="0.333" y="-1" width="0.197" height="3" fill="url(#g118)"/><rect x="0.5" y="-1" width="0.197" height="3" fill="url(#g119)"/><rect x="0.667" y="-1" width="0.197" height="3" fill="url(#g120)"/><rect x="0.833" y="-1" width="1.167" height="3" fill="url(#g121)"/></g></pattern>
<linearGradient id="g123" gradientUnits="userSpaceOnUse" x1="0" y1="0" x2="0" y2="1"><stop offset="0" stop-color="#a1fa22"/><stop offset="0.083" stop-color="#5ff740"/><stop offset="0.167" stop-color="#15f26a"/><stop offset="0.25" stop-color="#00f18f"/><stop offset="0.333" stop-color="#00f2a4"/><stop offset="0.417" stop-color="#00f2b9"/><stop offset="0.5" stop-color="#00f2cf"/><stop offset="0.583" stop-color="#00f2dd"/><stop offset="0.667" stop-color="#00f3ec"/><stop offset="0.75" stop-color="#00f4fa"/><stop offset="0.833" stop-color="#00ecff"/><stop offset="0.917" stop-color="#00dfff"/><stop offset="1" stop-color="#00d1ff"/></linearGradient>
<linearGradient id="g124" gradientUnits="userSpaceOnUse" x1="0" y1="0" x2="0" y2="1"><stop offset="0" stop-color="#9afa25"/><stop offset="0.083" stop-color="#57f644"/><stop offset="0.167" stop-color="#0ef16f"/><stop offset="0.25" stop-color="#00f191"/><stop offset="0.333" stop-color="#00f2a6"/><stop offset="0.417" stop-color="#00f2bc"/><stop offset="0.5" stop-color="#00f2d1"/><stop offset="0.583" stop-color="#00f2df"/><stop offset="0.667" stop-color="#00f3ec"/><stop offset="0.75" stop-color="#00f4fa"/><stop offset="0.833" stop-color="#00edff"/><stop offset="0.917" stop-color="#00e1ff"/><stop offset="1" stop-color="#00d4ff"/></linearGradient>
<linearGradient id="g125" gradientUnits="userSpaceOnUse" x1="0" y1="0" x2="0" y2="1"><stop offset="0" stop-color="#93f928"/><stop offset="0.083" stop-color="#50f648"/><stop offset="0.167" stop-color="#07f173"/><stop offset="0.25" stop-color="#00f194"/><stop offset="0.333" stop-color="#00f2a9"/><stop offset="0.417" stop-color="#00f2be"/><stop offset="0.5" stop-color="#00f2d3"/><stop offset="0.583" stop-color="#00f2e0"/><stop offset="0.667" stop-color="#00f3ed"/><stop offset="0.75" stop-color="#00f4fa"/><stop offset="0.833" stop-color="#00eeff"/><stop offset="0.917" stop-color="#00e3ff"/><stop offset="1" stop-color="#00d8ff"/></linearGradient>
<linearGradient id="g126" gradientUnits="userSpaceOnUse" x1="0" y1="0" x2="0" y2="1"><stop offset="0" stop-color="#8cf92b"/><stop offset="0.083" stop-color="#48f54c"/><stop offset="0.167" stop-color="#01f078"/><stop offset="0.25" stop-color="#00f197"/><stop offset="0.333" stop-color="#00f2ab"/><stop offset="0.417" stop-color="#00f2c0"/><stop offset="0.5" stop-color="#00f2d5"/><stop offset="0.583" stop-color="#00f2e1"/><stop offset="0.667" stop-color="#00f3ed"/><stop offset="0.75" stop-color="#00f4fa"/><stop offset="0.833" stop-color="#00efff"/><stop offset="0.917" stop-color="#00e5ff"/><stop offset="1" stop-color="#00daff"/></linearGradient>
<linearGradient id="g127" gradientUnits="userSpaceOnUse" x1="0" y1="0" x2="0" y2="1"><stop offset="0" stop-color="#85f92e"/><stop offset="0.083" stop-color="#40f550"/><stop offset="0.167" stop-color="#00f07b"/><stop offset="0.25" stop-color="#00f199"/><stop offset="0.333" stop-color="#00f2ad"/><stop offset="0.417" stop-color="#00f2c2"/><stop offset="0.5" stop-color="#00f2d6"/><stop offset="0.583" stop-color="#00f2e2"/><stop offset="0.667" stop-color="#00f3ee"/><stop offset="0.75" stop-color="#00f4fa"/><stop offset="0.833" stop-color="#00f0ff"/><stop offset="0.917" stop-color="#00e7ff"/><stop offset="1" stop-color="#00deff"/></linearGradient>
<linearGradient id="g128" gradientUnits="userSpaceOnUse" x1="0" y1="0" x2="0" y2="1"><stop offset="0" stop-color="#7ef932"/><stop offset="0.083" stop-color="#38f554"/><stop offset="0.167" stop-color="#00f07e"/><stop offset="0.25" stop-color="#00f29c"/><stop offset="0.333" stop-color="#00f2b0"/><stop offset="0.417" stop-color="#00f2c4"/><stop offset="0.5" stop-color="#00f2d8"/><stop offset="0.583" stop-color="#00f2e3"/><stop offset="0.667" stop-color="#00f3ee"/><stop offset="0.75" stop-color="#00f4fa"/><stop offset="0.833" stop-color="#00f2ff"/><stop offset="0.917" stop-color="#00e9ff"/><stop offset="1" stop-color="#00e1ff"/></linearGradient>
<pattern id="p122" patternUnits="userSpaceOnUse" x="-1" y="-1" width="3" height="3"><g transform="translate(1 1)"><rect x="-1" y="-1" width="1.197" height="3" fill="url(#g123)"/><rect x="0.167" y="-1" width="0.197" height="3" fill="url(#g124)"/><rect x="0.333" y="-1" width="0.197" height="3" fill="url(#g125)"/><rect x="0.5" y="-1" width="0.197" height="3" fill="url(#g126)"/><rect x="0.667" y="-1" width="0.197" height="3" fill="url(#g127)"/><rect x="0.833" y="-1" width="1.167" height="3" fill="url(#g128)"/></g></pattern>
<linearGradient id="g130" gradientUnits="userSpaceOnUse" x1="0" y1="0" x2="0" y2="1"><stop offset="0" stop-color="#007dff"/><stop offset="0.083" stop-color="#0078ff"/><stop offset="0.167" stop-color="#0074ff"/><stop offset="0.25" stop-color="#006eff"/><stop offset="0.333" stop-color="#0069ff"/><stop offset="0.417" stop-color="#0063ff"/><stop offset="0.5" stop-color="#005eff"/><stop offset="0.583" stop-color="#0058ff"/><stop offset="0.667" stop-color="#0053ff"/><stop offset="0.75" stop-color="#004dff"/><stop offset="0.833" stop-color="#0048ff"/><stop offset="0.917" stop-color="#0042ff"/><stop offset="1" stop-color="#003dff"/></linearGradient>
<linearGradient id="g131" gradientUnits="userSpaceOnUse" x1="0" y1="0" x2="0" y2="1"><stop offset="0" stop-color="#0078ff"/><stop offset="0.083" stop-color="#0074ff"/><stop offset="0.167" stop-color="#006fff"/><stop offset="0.25" stop-color="#006aff"/><stop offset="0.333" stop-color="#0065ff"/><stop offset="0.417" stop-color="#0060ff"/><stop offset="0.5" stop-color="#005bff"/><stop offset="0.583" stop-color="#0056ff"/><stop offset="0.667" stop-color="#0051ff"/><stop offset="0.75" stop-color="#004bff"/><stop offset="0.833" stop-color="#0046ff"/><stop offset="0.917" stop-color="#0041ff"/><stop offset="1" stop-color="#003cff"/></linearGradient>
<linearGradient id="g132" gradientUnits="userSpaceOnUse" x1="0" y1="0" x2="0" y2="1"><stop offset="0" stop-color="#0074ff"/><stop offset="0.083" stop-color="#0070ff"/><stop offset="0.167" stop-color="#006bff"/><stop offset="0.25" stop-color="#0066ff"/><stop offset="0.333" stop-color="#0061ff"/><stop offset="0.417" stop-color="#005dff"/><stop offset="0.5" stop-color="#0058ff"/><stop offset="0.583" stop-color="#0053ff"/><stop offset="0.667" stop-color="#004eff"/><stop offset="0.75" stop-color="#004aff"/><stop offset="0.833" stop-color="#0045ff"/><stop offset="0.917" stop-color="#0040ff"/><stop offset="1" stop-color="#003bff"/></linearGradient>
<linearGradient id="g133" gradientUnits="userSpaceOnUse" x1="0" y1="0" x2="0" y2="1"><stop offset="0" stop-color="#006fff"/><stop offset="0.083" stop-color="#006bff"/><stop offset="0.167" stop-color="#0066ff"/><stop offset="0.25" stop-color="#0062ff"/><stop offset="0.333" stop-color="#005eff"/><stop offset="0.417" stop-color="#0059ff"/><stop offset="0.5" stop-color="#0055ff"/><stop offset="0.583" stop-color="#0050ff"/><stop offset="0.667" stop-color="#004cff"/><stop offset="0.75" stop-color="#0048ff"/><stop offset="0.833" stop-color="#0043ff"/><stop offset="0.917" stop-color="#003fff"/><stop offset="1" stop-color="#003aff"/></linearGradient>
<linearGradient id="g134" gradientUnits="userSpaceOnUse" x1="0" y1="0" x2="0" y2="1"><stop offset="0" stop-color="#006aff"/><stop offset="0.083" stop-color="#0066ff"/><stop offset="0.167" stop-color="#0062ff"/><stop offset="0.25" stop-color="#005eff"/><stop offset="0.333" stop-color="#005aff"/><stop offset="0.417" stop-color="#0056ff"/><stop offset="0.5" stop-color="#0052ff"/><stop offset="0.583" stop-color="#004eff"/><stop offset="0.667" stop-color="#004aff"/><stop offset="0.75" stop-color="#0046ff"/><stop offset="0.833" stop-color="#0042ff"/><stop offset="0.917" stop-color="#003eff"/><stop offset="1" stop-color="#003aff"/></linearGradient>
<linearGradient id="g135" gradientUnits="userSpaceOnUse" x1="0" y1="0" x2="0" y2="1"><stop offset="0" stop-color="#0064ff"/><stop offset="0.083" stop-color="#0061ff"/><stop offset="0.167" stop-color="#005dff"/><stop offset="0.25" stop-color="#005aff"/><stop offset="0.333" stop-color="#0056ff"/><stop offset="0.417" stop-color="#0052ff"/><stop offset="0.5" stop-color="#004fff"/><stop offset="0.583" stop-color="#004bff"/><stop offset="0.667" stop-color="#0047ff"/><stop offset="0.75" stop-color="#0044ff"/><stop offset="0.833" stop-color="#0040ff"/><stop offset="0.917" stop-color="#003dff"/><stop offset="1" stop-color="#0039ff"/></linearGradient>
<pattern id="p129" patternUnits="userSpaceOnUse" x="-1" y="-1" width="3" height="3"><g transform="translate(1 1)"><rect x="-1" y="-1" width="1.197" height="3" fill="url(#g130)"/><rect x="0.167" y="-1" width="0.197" height="3" fill="url(#g131)"/><rect x="0.333" y="-1" width="0.197" height="3" fill="url(#g132)"/><rect x="0.5" y="-1" width="0.197" height="3" fill="url(#g133)"/><rect x="0.667" y="-1" width="0.197" height="3" fill="url(#g134)"/><rect x="0.833" y="-1" width="1.167" height="3" fill="url(#g135)"/></g></pattern>
<linearGradient id="g137" gradientUnits="userSpaceOnUse" x1="0" y1="0" x2="0" y2="1"><stop offset="0" stop-color="#0004ff"/><stop offset="0.083" stop-color="#0001ff"/><stop offset="0.167" stop-color="#0000fe"/><stop offset="0.25" stop-color="#0000fc"/><stop offset="0.333" stop-color="#0000f9"/><stop offset="0.417" stop-color="#0000f7"/><stop offset="0.5" stop-color="#0000f5"/><stop offset="0.583" stop-color="#0000f3"/><stop offset="0.667" stop-color="#0000f0"/><stop offset="0.75" stop-color="#0000ee"/><stop offset="0.833" stop-color="#0000ec"/><stop offset="0.917" stop-color="#0000ea"/><stop offset="1" stop-color="#0000e7"/></linearGradient>
<linearGradient id="g138" gradientUnits="userSpaceOnUse" x1="0" y1="0" x2="0" y2="1"><stop offset="0" stop-color="#0002ff"/><stop offset="0.083" stop-color="#0000ff"/><stop offset="0.167" stop-color="#0000fd"/><stop offset="0.25" stop-color="#0000fb"/><stop offset="0.333" stop-color="#0000f8"/><stop offset="0.417" stop-color="#0000f6"/><stop offset="0.5" stop-color="#0000f4"/><stop offset="0.583" stop-color="#0000f2"/><stop offset="0.667" stop-color="#0000f0"/><stop offset="0.75" stop-color="#0000ee"/><stop offset="0.833" stop-color="#0000ec"/><stop offset="0.917" stop-color="#0000ea"/><stop offset="1" stop-color="#0000e7"/></linearGradient>
<linearGradient id="g139" gradientUnits="userSpaceOnUse" x1="0" y1="0" x2="0" y2="1"><stop offset="0" stop-color="#0001ff"/><stop offset="0.083" stop-color="#0000fe"/><stop offset="0.167" stop-color="#0000fc"/><stop offset="0.25" stop-color="#0000fa"/><stop offset="0.333" stop-color="#0000f8"/><stop offset="0.417" stop-color="#0000f6"/><stop offset="0.5" stop-color="#0000f4"/><stop offset="0.583" stop-color="#0000f2"/><stop offset="0.667" stop-color="#0000f0"/><stop offset="0.75" stop-color="#0000ed"/><stop offset="0.833" stop-color="#0000eb"/><stop offset="0.917" stop-color="#0000e9"/><stop offset="1" stop-color="#0000e7"/></linearGradient>
<linearGradient id="g140" gradientUnits="userSpaceOnUse" x1="0" y1="0" x2="0" y2="1"><stop offset="0" stop-color="#0000fe"/><stop offset="0.083" stop-color="#0000fc"/><stop offset="0.167" stop-color="#0000fb"/><stop offset="0.25" stop-color="#0000f9"/><stop offset="0.333" stop-color="#0000f7"/><stop offset="0.417" stop-color="#0000f5"/><stop offset="0.5" stop-color="#0000f3"/><stop offset="0.583" stop-color="#0000f1"/><stop offset="0.667" stop-color="#0000ef"/><stop offset="0.75" stop-color="#0000ed"/><stop offset="0.833" stop-color="#0000eb"/><stop offset="0.917" stop-color="#0000e9"/><stop offset="1" stop-color="#0000e7"/></linearGradient>
<linearGradient id="g141" gradientUnits="userSpaceOnUse" x1="0" y1="0" x2="0" y2="1"><stop offset="0" stop-color="#0000fd"/><stop offset="0.083" stop-color="#0000fb"/><stop offset="0.167" stop-color="#0000f9"/><stop offset="0.25" stop-color="#0000f8"/><stop offset="0.333" stop-color="#0000f6"/><stop offset="0.417" stop-color="#0000f4"/><stop offset="0.5" stop-color="#0000f2"/><stop offset="0.583" stop-color="#0000f0"/><stop offset="0.667" stop-color="#0000ef"/><stop offset="0.75" stop-color="#0000ed"/><stop offset="0.833" stop-color="#0000eb"/><stop offset="0.917" stop-color="#0000e9"/><stop offset="1" stop-color="#0000e7"/></linearGradient>
<linearGradient id="g142" gradientUnits="userSpaceOnUse" x1="0" y1="0" x2="0" y2="1"><stop offset="0" stop-color="#0000fc"/><stop offset="0.083" stop-color="#0000fa"/><stop offset="0.167" stop-color="#0000f8"/><stop offset="0.25" stop-color="#0000f7"/><stop offset="0.333" stop-color="#0000f5"/><stop offset="0.417" stop-color="#0000f3"/><stop offset="0.5" stop-color="#0000f2"/><stop offset="0.583" stop-color="#0000f0"/><stop offset="0.667" stop-color="#0000ee"/><stop offset="0.75" stop-color="#0000ed"/><stop offset="0.833" stop-color="#0000eb"/><stop offset="0.917" stop-color="#0000e9"/><stop offset="1" stop-color="#0000e7"/></linearGradient>
<pattern id="p136" patternUnits="userSpaceOnUse" x="-1" y="-1" width="3" height="3"><g transform="translate(1 1)"><rect x="-1" y="-1" width="1.197" height="3" fill="url(#g137)"/><rect x="0.167" y="-1" width="0.197" height="3" fill="url(#g138)"/><rect x="0.333" y="-1" width="0.197" height="3" fill="url(#g139)"/><rect x="0.5" y="-1" width="0.197" height="3" fill="url(#g140)"/><rect x="0.667" y="-1" width="0.197" height="3" fill="url(#g141)"/><rect x="0.833" y="-1" width="1.167" height="3" fill="url(#g142)"/></g></pattern></defs>
<g transform="translate(0 0)"><line x1="60.5" y1="204.129" x2="60.5" y2="35.994" stroke="#f5f5f5" stroke-width="0.6"/>
<line x1="60.5" y1="204.129" x2="157.7" y2="214.129" stroke="#f5f5f5" stroke-width="0.6"/>
<line x1="75.9" y1="198.957" x2="75.9" y2="30.822" stroke="#f5f5f5" stroke-width="0.6"/>
<line x1="75.9" y1="198.957" x2="173.1" y2="208.957" stroke="#f5f5f5" stroke-width="0.6"/>
<line x1="91.3" y1="193.786" x2="91.3" y2="25.651" stroke="#f5f5f5" stroke-width="0.6"/>
<line x1="91.3" y1="193.786" x2="188.5" y2="203.786" stroke="#f5f5f5" stroke-width="0.6"/>
<line x1="126.771" y1="194.057" x2="126.771" y2="25.922" stroke="#f5f5f5" stroke-width="0.6"/>
<line x1="72.871" y1="212.157" x2="126.771" y2="194.057" stroke="#f5f5f5" stroke-width="0.6"/>
<line x1="154.543" y1="196.914" x2="154.543" y2="28.779" stroke="#f5f5f5" stroke-width="0.6"/>
<line x1="100.643" y1="215.014" x2="154.543" y2="196.914" stroke="#f5f5f5" stroke-width="0.6"/>
<line x1="182.314" y1="199.771" x2="182.314" y2="31.636" stroke="#f5f5f5" stroke-width="0.6"/>
<line x1="128.414" y1="217.871" x2="182.314" y2="199.771" stroke="#f5f5f5" stroke-width="0.6"/>
<line x1="99" y1="191.2" x2="99" y2="23.065" stroke="#9a9a9a" stroke-width="1.2"/>
<line x1="196.2" y1="201.2" x2="196.2" y2="33.065" stroke="#9a9a9a" stroke-width="1.2"/>
<line x1="45.1" y1="209.3" x2="99" y2="191.2" stroke="#6a6a6a" stroke-width="0.9"/>
<line x1="99" y1="191.2" x2="196.2" y2="201.2" stroke="#6a6a6a" stroke-width="0.9"/>
<rect width="1" height="1" fill="url(#p1)" transform="matrix(97.2 10 53.9 -18.1 45.1 194.015)"/>
<rect width="1" height="1" fill="url(#p8)" transform="matrix(97.2 10 53.9 -18.1 45.1 163.445)"/>
<rect width="1" height="1" fill="url(#p15)" transform="matrix(97.2 10 53.9 -18.1 45.1 132.875)"/>
<rect width="1" height="1" fill="url(#p22)" transform="matrix(97.2 10 53.9 -18.1 45.1 102.305)"/>
<rect width="1" height="1" fill="url(#p29)" transform="matrix(97.2 10 53.9 -18.1 45.1 71.735)"/>
<rect width="1" height="1" fill="url(#p36)" transform="matrix(97.2 10 53.9 -18.1 45.1 41.165)"/>
<line x1="45" y1="209.9" x2="45.1" y2="41.165" stroke="#5a5a5a" stroke-width="1.6"/>
<line x1="45.1" y1="209.3" x2="142.3" y2="219.3" stroke="#3a3a3a" stroke-width="1.3"/>
<line x1="142.3" y1="219.3" x2="196.2" y2="201.2" stroke="#3a3a3a" stroke-width="1.3"/>
<line x1="72.871" y1="212.157" x2="73.171" y2="209.957" stroke="#3a3a3a" stroke-width="1.2"/>
<line x1="100.643" y1="215.014" x2="100.943" y2="212.814" stroke="#3a3a3a" stroke-width="1.2"/>
<line x1="128.414" y1="217.871" x2="128.714" y2="215.671" stroke="#3a3a3a" stroke-width="1.2"/>
<line x1="157.7" y1="214.129" x2="157.2" y2="212.129" stroke="#3a3a3a" stroke-width="1.2"/>
<line x1="173.1" y1="208.957" x2="172.6" y2="206.957" stroke="#3a3a3a" stroke-width="1.2"/>
<line x1="188.5" y1="203.786" x2="188" y2="201.786" stroke="#3a3a3a" stroke-width="1.2"/>
<rect x="224.1" y="23.8" width="15" height="194.6" fill="url(#jetv)" stroke="#a8a8a8" stroke-width="0.6"/>
<line x1="236.9" y1="218.4" x2="239.1" y2="218.4" stroke="#444" stroke-width="0.8"/>
<line x1="236.9" y1="169.75" x2="239.1" y2="169.75" stroke="#444" stroke-width="0.8"/>
<line x1="236.9" y1="121.1" x2="239.1" y2="121.1" stroke="#444" stroke-width="0.8"/>
<line x1="236.9" y1="72.45" x2="239.1" y2="72.45" stroke="#444" stroke-width="0.8"/>
<line x1="236.9" y1="23.8" x2="239.1" y2="23.8" stroke="#444" stroke-width="0.8"/>
<g class="t"><text x="120.8" y="20.6" text-anchor="middle" font-size="13.1">(a)January 4, 2022 (Kp=3)</text>
<text x="40.6" y="198.315" text-anchor="end">150</text>
<text x="40.6" y="167.745" text-anchor="end">250</text>
<text x="40.6" y="137.175" text-anchor="end">350</text>
<text x="40.6" y="106.605" text-anchor="end">450</text>
<text x="40.6" y="76.035" text-anchor="end">550</text>
<text x="40.6" y="45.465" text-anchor="end">650</text>
<text x="35.8" y="226.1" text-anchor="middle">108</text>
<text x="63.6" y="228.6" text-anchor="middle">110</text>
<text x="91.6" y="231.6" text-anchor="middle">112</text>
<text x="119.5" y="234.1" text-anchor="middle">114</text>
<text x="149" y="235.6" text-anchor="middle">24</text>
<text x="164.6" y="230.7" text-anchor="middle">26</text>
<text x="179.9" y="225.3" text-anchor="middle">28</text>
<text x="195.2" y="220.3" text-anchor="middle">30</text>
<text x="8" y="248" font-size="14">Longitude[°]</text>
<text x="187.2" y="245.4" font-size="13.85">Latitude[°]</text>
<text transform="translate(13.6 161.5) rotate(-90)" font-size="14">Altitude[km]</text>
<text x="243.3" y="222.9" font-size="12">0</text>
<text x="243.3" y="174.25" font-size="12">5</text>
<text x="243.3" y="125.6" font-size="12">10</text>
<text x="243.3" y="76.95" font-size="12">15</text>
<text x="243.3" y="28.3" font-size="12">20</text>
<text x="201" y="18.2" font-size="12.1">[×10<tspan font-size="8.4" dy="-5.6">11</tspan><tspan dy="5.6">el/m</tspan><tspan font-size="8.4" dy="-5.6">3</tspan><tspan dy="5.6">]</tspan></text></g></g>
<g transform="translate(281.4 0)"><line x1="60.5" y1="204.129" x2="60.5" y2="35.994" stroke="#f5f5f5" stroke-width="0.6"/>
<line x1="60.5" y1="204.129" x2="157.7" y2="214.129" stroke="#f5f5f5" stroke-width="0.6"/>
<line x1="75.9" y1="198.957" x2="75.9" y2="30.822" stroke="#f5f5f5" stroke-width="0.6"/>
<line x1="75.9" y1="198.957" x2="173.1" y2="208.957" stroke="#f5f5f5" stroke-width="0.6"/>
<line x1="91.3" y1="193.786" x2="91.3" y2="25.651" stroke="#f5f5f5" stroke-width="0.6"/>
<line x1="91.3" y1="193.786" x2="188.5" y2="203.786" stroke="#f5f5f5" stroke-width="0.6"/>
<line x1="126.771" y1="194.057" x2="126.771" y2="25.922" stroke="#f5f5f5" stroke-width="0.6"/>
<line x1="72.871" y1="212.157" x2="126.771" y2="194.057" stroke="#f5f5f5" stroke-width="0.6"/>
<line x1="154.543" y1="196.914" x2="154.543" y2="28.779" stroke="#f5f5f5" stroke-width="0.6"/>
<line x1="100.643" y1="215.014" x2="154.543" y2="196.914" stroke="#f5f5f5" stroke-width="0.6"/>
<line x1="182.314" y1="199.771" x2="182.314" y2="31.636" stroke="#f5f5f5" stroke-width="0.6"/>
<line x1="128.414" y1="217.871" x2="182.314" y2="199.771" stroke="#f5f5f5" stroke-width="0.6"/>
<line x1="99" y1="191.2" x2="99" y2="23.065" stroke="#9a9a9a" stroke-width="1.2"/>
<line x1="196.2" y1="201.2" x2="196.2" y2="33.065" stroke="#9a9a9a" stroke-width="1.2"/>
<line x1="45.1" y1="209.3" x2="99" y2="191.2" stroke="#6a6a6a" stroke-width="0.9"/>
<line x1="99" y1="191.2" x2="196.2" y2="201.2" stroke="#6a6a6a" stroke-width="0.9"/>
<rect width="1" height="1" fill="#0004ff" transform="matrix(97.2 10 53.9 -18.1 45.1 194.015)"/>
<rect width="1" height="1" fill="url(#p38)" transform="matrix(97.2 10 53.9 -18.1 45.1 163.445)"/>
<rect width="1" height="1" fill="url(#p45)" transform="matrix(97.2 10 53.9 -18.1 45.1 132.875)"/>
<rect width="1" height="1" fill="url(#p52)" transform="matrix(97.2 10 53.9 -18.1 45.1 102.305)"/>
<rect width="1" height="1" fill="url(#p59)" transform="matrix(97.2 10 53.9 -18.1 45.1 71.735)"/>
<rect width="1" height="1" fill="url(#p66)" transform="matrix(97.2 10 53.9 -18.1 45.1 41.165)"/>
<line x1="45" y1="209.9" x2="45.1" y2="41.165" stroke="#5a5a5a" stroke-width="1.6"/>
<line x1="45.1" y1="209.3" x2="142.3" y2="219.3" stroke="#3a3a3a" stroke-width="1.3"/>
<line x1="142.3" y1="219.3" x2="196.2" y2="201.2" stroke="#3a3a3a" stroke-width="1.3"/>
<line x1="72.871" y1="212.157" x2="73.171" y2="209.957" stroke="#3a3a3a" stroke-width="1.2"/>
<line x1="100.643" y1="215.014" x2="100.943" y2="212.814" stroke="#3a3a3a" stroke-width="1.2"/>
<line x1="128.414" y1="217.871" x2="128.714" y2="215.671" stroke="#3a3a3a" stroke-width="1.2"/>
<line x1="157.7" y1="214.129" x2="157.2" y2="212.129" stroke="#3a3a3a" stroke-width="1.2"/>
<line x1="173.1" y1="208.957" x2="172.6" y2="206.957" stroke="#3a3a3a" stroke-width="1.2"/>
<line x1="188.5" y1="203.786" x2="188" y2="201.786" stroke="#3a3a3a" stroke-width="1.2"/>
<rect x="224.1" y="23.8" width="15" height="194.6" fill="url(#jetv)" stroke="#a8a8a8" stroke-width="0.6"/>
<line x1="236.9" y1="218.4" x2="239.1" y2="218.4" stroke="#444" stroke-width="0.8"/>
<line x1="236.9" y1="169.75" x2="239.1" y2="169.75" stroke="#444" stroke-width="0.8"/>
<line x1="236.9" y1="121.1" x2="239.1" y2="121.1" stroke="#444" stroke-width="0.8"/>
<line x1="236.9" y1="72.45" x2="239.1" y2="72.45" stroke="#444" stroke-width="0.8"/>
<line x1="236.9" y1="23.8" x2="239.1" y2="23.8" stroke="#444" stroke-width="0.8"/>
<g class="t"><text x="120.8" y="20.6" text-anchor="middle" font-size="13.1">(b)March 17, 2022 (Kp=2)</text>
<text x="40.6" y="198.315" text-anchor="end">150</text>
<text x="40.6" y="167.745" text-anchor="end">250</text>
<text x="40.6" y="137.175" text-anchor="end">350</text>
<text x="40.6" y="106.605" text-anchor="end">450</text>
<text x="40.6" y="76.035" text-anchor="end">550</text>
<text x="40.6" y="45.465" text-anchor="end">650</text>
<text x="35.8" y="226.1" text-anchor="middle">108</text>
<text x="63.6" y="228.6" text-anchor="middle">110</text>
<text x="91.6" y="231.6" text-anchor="middle">112</text>
<text x="119.5" y="234.1" text-anchor="middle">114</text>
<text x="149" y="235.6" text-anchor="middle">24</text>
<text x="164.6" y="230.7" text-anchor="middle">26</text>
<text x="179.9" y="225.3" text-anchor="middle">28</text>
<text x="195.2" y="220.3" text-anchor="middle">30</text>
<text x="8" y="248" font-size="14">Longitude[°]</text>
<text x="187.2" y="245.4" font-size="13.85">Latitude[°]</text>
<text transform="translate(13.6 161.5) rotate(-90)" font-size="14">Altitude[km]</text>
<text x="243.3" y="222.9" font-size="12">0</text>
<text x="243.3" y="174.25" font-size="12">5</text>
<text x="243.3" y="125.6" font-size="12">10</text>
<text x="243.3" y="76.95" font-size="12">15</text>
<text x="243.3" y="28.3" font-size="12">20</text>
<text x="201" y="18.2" font-size="12.1">[×10<tspan font-size="8.4" dy="-5.6">11</tspan><tspan dy="5.6">el/m</tspan><tspan font-size="8.4" dy="-5.6">3</tspan><tspan dy="5.6">]</tspan></text></g></g>
<g transform="translate(0 253.6)"><line x1="60.5" y1="204.129" x2="60.5" y2="35.994" stroke="#f5f5f5" stroke-width="0.6"/>
<line x1="60.5" y1="204.129" x2="157.7" y2="214.129" stroke="#f5f5f5" stroke-width="0.6"/>
<line x1="75.9" y1="198.957" x2="75.9" y2="30.822" stroke="#f5f5f5" stroke-width="0.6"/>
<line x1="75.9" y1="198.957" x2="173.1" y2="208.957" stroke="#f5f5f5" stroke-width="0.6"/>
<line x1="91.3" y1="193.786" x2="91.3" y2="25.651" stroke="#f5f5f5" stroke-width="0.6"/>
<line x1="91.3" y1="193.786" x2="188.5" y2="203.786" stroke="#f5f5f5" stroke-width="0.6"/>
<line x1="126.771" y1="194.057" x2="126.771" y2="25.922" stroke="#f5f5f5" stroke-width="0.6"/>
<line x1="72.871" y1="212.157" x2="126.771" y2="194.057" stroke="#f5f5f5" stroke-width="0.6"/>
<line x1="154.543" y1="196.914" x2="154.543" y2="28.779" stroke="#f5f5f5" stroke-width="0.6"/>
<line x1="100.643" y1="215.014" x2="154.543" y2="196.914" stroke="#f5f5f5" stroke-width="0.6"/>
<line x1="182.314" y1="199.771" x2="182.314" y2="31.636" stroke="#f5f5f5" stroke-width="0.6"/>
<line x1="128.414" y1="217.871" x2="182.314" y2="199.771" stroke="#f5f5f5" stroke-width="0.6"/>
<line x1="99" y1="191.2" x2="99" y2="23.065" stroke="#9a9a9a" stroke-width="1.2"/>
<line x1="196.2" y1="201.2" x2="196.2" y2="33.065" stroke="#9a9a9a" stroke-width="1.2"/>
<line x1="45.1" y1="209.3" x2="99" y2="191.2" stroke="#6a6a6a" stroke-width="0.9"/>
<line x1="99" y1="191.2" x2="196.2" y2="201.2" stroke="#6a6a6a" stroke-width="0.9"/>
<rect width="1" height="1" fill="#0000f7" transform="matrix(97.2 10 53.9 -18.1 45.1 194.015)"/>
<rect width="1" height="1" fill="url(#p73)" transform="matrix(97.2 10 53.9 -18.1 45.1 163.445)"/>
<rect width="1" height="1" fill="url(#p80)" transform="matrix(97.2 10 53.9 -18.1 45.1 132.875)"/>
<rect width="1" height="1" fill="url(#p87)" transform="matrix(97.2 10 53.9 -18.1 45.1 102.305)"/>
<rect width="1" height="1" fill="url(#p94)" transform="matrix(97.2 10 53.9 -18.1 45.1 71.735)"/>
<rect width="1" height="1" fill="url(#p101)" transform="matrix(97.2 10 53.9 -18.1 45.1 41.165)"/>
<line x1="45" y1="209.9" x2="45.1" y2="41.165" stroke="#5a5a5a" stroke-width="1.6"/>
<line x1="45.1" y1="209.3" x2="142.3" y2="219.3" stroke="#3a3a3a" stroke-width="1.3"/>
<line x1="142.3" y1="219.3" x2="196.2" y2="201.2" stroke="#3a3a3a" stroke-width="1.3"/>
<line x1="72.871" y1="212.157" x2="73.171" y2="209.957" stroke="#3a3a3a" stroke-width="1.2"/>
<line x1="100.643" y1="215.014" x2="100.943" y2="212.814" stroke="#3a3a3a" stroke-width="1.2"/>
<line x1="128.414" y1="217.871" x2="128.714" y2="215.671" stroke="#3a3a3a" stroke-width="1.2"/>
<line x1="157.7" y1="214.129" x2="157.2" y2="212.129" stroke="#3a3a3a" stroke-width="1.2"/>
<line x1="173.1" y1="208.957" x2="172.6" y2="206.957" stroke="#3a3a3a" stroke-width="1.2"/>
<line x1="188.5" y1="203.786" x2="188" y2="201.786" stroke="#3a3a3a" stroke-width="1.2"/>
<rect x="224.1" y="23.8" width="15" height="194.6" fill="url(#jetv)" stroke="#a8a8a8" stroke-width="0.6"/>
<line x1="236.9" y1="218.4" x2="239.1" y2="218.4" stroke="#444" stroke-width="0.8"/>
<line x1="236.9" y1="169.75" x2="239.1" y2="169.75" stroke="#444" stroke-width="0.8"/>
<line x1="236.9" y1="121.1" x2="239.1" y2="121.1" stroke="#444" stroke-width="0.8"/>
<line x1="236.9" y1="72.45" x2="239.1" y2="72.45" stroke="#444" stroke-width="0.8"/>
<line x1="236.9" y1="23.8" x2="239.1" y2="23.8" stroke="#444" stroke-width="0.8"/>
<g class="t"><text x="120.8" y="20.6" text-anchor="middle" font-size="13.1">(c)June 17, 2022 (Kp=1)</text>
<text x="40.6" y="198.315" text-anchor="end">150</text>
<text x="40.6" y="167.745" text-anchor="end">250</text>
<text x="40.6" y="137.175" text-anchor="end">350</text>
<text x="40.6" y="106.605" text-anchor="end">450</text>
<text x="40.6" y="76.035" text-anchor="end">550</text>
<text x="40.6" y="45.465" text-anchor="end">650</text>
<text x="35.8" y="226.1" text-anchor="middle">108</text>
<text x="63.6" y="228.6" text-anchor="middle">110</text>
<text x="91.6" y="231.6" text-anchor="middle">112</text>
<text x="119.5" y="234.1" text-anchor="middle">114</text>
<text x="149" y="235.6" text-anchor="middle">24</text>
<text x="164.6" y="230.7" text-anchor="middle">26</text>
<text x="179.9" y="225.3" text-anchor="middle">28</text>
<text x="195.2" y="220.3" text-anchor="middle">30</text>
<text x="8" y="248" font-size="14">Longitude[°]</text>
<text x="187.2" y="245.4" font-size="13.85">Latitude[°]</text>
<text transform="translate(13.6 161.5) rotate(-90)" font-size="14">Altitude[km]</text>
<text x="243.3" y="222.9" font-size="12">0</text>
<text x="243.3" y="174.25" font-size="12">5</text>
<text x="243.3" y="125.6" font-size="12">10</text>
<text x="243.3" y="76.95" font-size="12">15</text>
<text x="243.3" y="28.3" font-size="12">20</text>
<text x="201" y="18.2" font-size="12.1">[×10<tspan font-size="8.4" dy="-5.6">11</tspan><tspan dy="5.6">el/m</tspan><tspan font-size="8.4" dy="-5.6">3</tspan><tspan dy="5.6">]</tspan></text></g></g>
<g transform="translate(281.4 253.6)"><line x1="60.5" y1="204.129" x2="60.5" y2="35.994" stroke="#f5f5f5" stroke-width="0.6"/>
<line x1="60.5" y1="204.129" x2="157.7" y2="214.129" stroke="#f5f5f5" stroke-width="0.6"/>
<line x1="75.9" y1="198.957" x2="75.9" y2="30.822" stroke="#f5f5f5" stroke-width="0.6"/>
<line x1="75.9" y1="198.957" x2="173.1" y2="208.957" stroke="#f5f5f5" stroke-width="0.6"/>
<line x1="91.3" y1="193.786" x2="91.3" y2="25.651" stroke="#f5f5f5" stroke-width="0.6"/>
<line x1="91.3" y1="193.786" x2="188.5" y2="203.786" stroke="#f5f5f5" stroke-width="0.6"/>
<line x1="126.771" y1="194.057" x2="126.771" y2="25.922" stroke="#f5f5f5" stroke-width="0.6"/>
<line x1="72.871" y1="212.157" x2="126.771" y2="194.057" stroke="#f5f5f5" stroke-width="0.6"/>
<line x1="154.543" y1="196.914" x2="154.543" y2="28.779" stroke="#f5f5f5" stroke-width="0.6"/>
<line x1="100.643" y1="215.014" x2="154.543" y2="196.914" stroke="#f5f5f5" stroke-width="0.6"/>
<line x1="182.314" y1="199.771" x2="182.314" y2="31.636" stroke="#f5f5f5" stroke-width="0.6"/>
<line x1="128.414" y1="217.871" x2="182.314" y2="199.771" stroke="#f5f5f5" stroke-width="0.6"/>
<line x1="99" y1="191.2" x2="99" y2="23.065" stroke="#9a9a9a" stroke-width="1.2"/>
<line x1="196.2" y1="201.2" x2="196.2" y2="33.065" stroke="#9a9a9a" stroke-width="1.2"/>
<line x1="45.1" y1="209.3" x2="99" y2="191.2" stroke="#6a6a6a" stroke-width="0.9"/>
<line x1="99" y1="191.2" x2="196.2" y2="201.2" stroke="#6a6a6a" stroke-width="0.9"/>
<rect width="1" height="1" fill="#000dff" transform="matrix(97.2 10 53.9 -18.1 45.1 194.015)"/>
<rect width="1" height="1" fill="url(#p108)" transform="matrix(97.2 10 53.9 -18.1 45.1 163.445)"/>
<rect width="1" height="1" fill="url(#p115)" transform="matrix(97.2 10 53.9 -18.1 45.1 132.875)"/>
<rect width="1" height="1" fill="url(#p122)" transform="matrix(97.2 10 53.9 -18.1 45.1 102.305)"/>
<rect width="1" height="1" fill="url(#p129)" transform="matrix(97.2 10 53.9 -18.1 45.1 71.735)"/>
<rect width="1" height="1" fill="url(#p136)" transform="matrix(97.2 10 53.9 -18.1 45.1 41.165)"/>
<line x1="45" y1="209.9" x2="45.1" y2="41.165" stroke="#5a5a5a" stroke-width="1.6"/>
<line x1="45.1" y1="209.3" x2="142.3" y2="219.3" stroke="#3a3a3a" stroke-width="1.3"/>
<line x1="142.3" y1="219.3" x2="196.2" y2="201.2" stroke="#3a3a3a" stroke-width="1.3"/>
<line x1="72.871" y1="212.157" x2="73.171" y2="209.957" stroke="#3a3a3a" stroke-width="1.2"/>
<line x1="100.643" y1="215.014" x2="100.943" y2="212.814" stroke="#3a3a3a" stroke-width="1.2"/>
<line x1="128.414" y1="217.871" x2="128.714" y2="215.671" stroke="#3a3a3a" stroke-width="1.2"/>
<line x1="157.7" y1="214.129" x2="157.2" y2="212.129" stroke="#3a3a3a" stroke-width="1.2"/>
<line x1="173.1" y1="208.957" x2="172.6" y2="206.957" stroke="#3a3a3a" stroke-width="1.2"/>
<line x1="188.5" y1="203.786" x2="188" y2="201.786" stroke="#3a3a3a" stroke-width="1.2"/>
<rect x="224.1" y="23.8" width="15" height="194.6" fill="url(#jetv)" stroke="#a8a8a8" stroke-width="0.6"/>
<line x1="236.9" y1="218.4" x2="239.1" y2="218.4" stroke="#444" stroke-width="0.8"/>
<line x1="236.9" y1="169.75" x2="239.1" y2="169.75" stroke="#444" stroke-width="0.8"/>
<line x1="236.9" y1="121.1" x2="239.1" y2="121.1" stroke="#444" stroke-width="0.8"/>
<line x1="236.9" y1="72.45" x2="239.1" y2="72.45" stroke="#444" stroke-width="0.8"/>
<line x1="236.9" y1="23.8" x2="239.1" y2="23.8" stroke="#444" stroke-width="0.8"/>
<g class="t"><text x="120.8" y="20.6" text-anchor="middle" font-size="12.9">(d)September 18, 2022 (Kp=2)</text>
<text x="40.6" y="198.315" text-anchor="end">150</text>
<text x="40.6" y="167.745" text-anchor="end">250</text>
<text x="40.6" y="137.175" text-anchor="end">350</text>
<text x="40.6" y="106.605" text-anchor="end">450</text>
<text x="40.6" y="76.035" text-anchor="end">550</text>
<text x="40.6" y="45.465" text-anchor="end">650</text>
<text x="35.8" y="226.1" text-anchor="middle">108</text>
<text x="63.6" y="228.6" text-anchor="middle">110</text>
<text x="91.6" y="231.6" text-anchor="middle">112</text>
<text x="119.5" y="234.1" text-anchor="middle">114</text>
<text x="149" y="235.6" text-anchor="middle">24</text>
<text x="164.6" y="230.7" text-anchor="middle">26</text>
<text x="179.9" y="225.3" text-anchor="middle">28</text>
<text x="195.2" y="220.3" text-anchor="middle">30</text>
<text x="8" y="248" font-size="14">Longitude[°]</text>
<text x="187.2" y="245.4" font-size="13.85">Latitude[°]</text>
<text transform="translate(13.6 161.5) rotate(-90)" font-size="14">Altitude[km]</text>
<text x="243.3" y="222.9" font-size="12">0</text>
<text x="243.3" y="174.25" font-size="12">5</text>
<text x="243.3" y="125.6" font-size="12">10</text>
<text x="243.3" y="76.95" font-size="12">15</text>
<text x="243.3" y="28.3" font-size="12">20</text>
<text x="201" y="18.2" font-size="12.1">[×10<tspan font-size="8.4" dy="-5.6">11</tspan><tspan dy="5.6">el/m</tspan><tspan font-size="8.4" dy="-5.6">3</tspan><tspan dy="5.6">]</tspan></text></g></g>
</svg></body></html>
